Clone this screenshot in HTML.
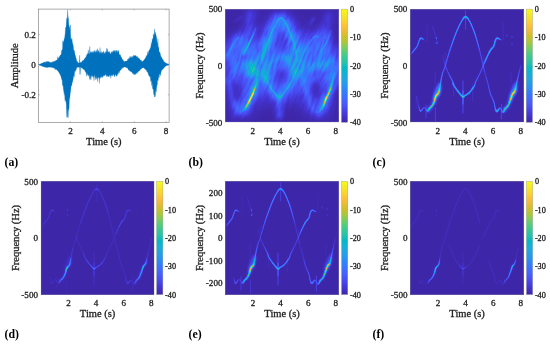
<!DOCTYPE html><html><head><meta charset="utf-8"><title>Figure</title><style>
html,body{margin:0;padding:0;background:#fff}body{width:550px;height:344px;position:relative;overflow:hidden}.ab{position:absolute;overflow:hidden}svg text{font-family:"Liberation Serif",serif;fill:#1c1c1c;stroke:#1c1c1c;stroke-width:.3px}
</style></head><body>
<svg width="0" height="0" style="position:absolute"><defs><filter id="pm" x="0" y="0" width="1" height="1" filterUnits="objectBoundingBox" color-interpolation-filters="sRGB"><feComponentTransfer><feFuncR type="table" tableValues="0.242 0.25 0.258 0.265 0.271 0.275 0.278 0.28 0.281 0.281 0.28 0.276 0.27 0.26 0.244 0.221 0.196 0.183 0.179 0.176 0.169 0.154 0.146 0.138 0.125 0.111 0.095 0.069 0.03 0.004 0.007 0.043 0.096 0.141 0.172 0.194 0.216 0.247 0.291 0.341 0.391 0.446 0.504 0.562 0.617 0.672 0.724 0.774 0.82 0.863 0.903 0.939 0.973 0.996 0.997 0.995 0.989 0.979 0.968 0.961 0.96 0.963 0.969 0.977"/><feFuncG type="table" tableValues="0.15 0.165 0.182 0.198 0.215 0.234 0.256 0.278 0.301 0.323 0.345 0.367 0.389 0.412 0.436 0.46 0.485 0.507 0.529 0.55 0.57 0.59 0.609 0.628 0.646 0.663 0.68 0.695 0.708 0.72 0.731 0.741 0.75 0.758 0.767 0.776 0.784 0.792 0.797 0.801 0.803 0.802 0.799 0.794 0.788 0.779 0.77 0.76 0.75 0.741 0.733 0.729 0.73 0.743 0.766 0.789 0.814 0.839 0.864 0.889 0.913 0.937 0.961 0.984"/><feFuncB type="table" tableValues="0.66 0.708 0.751 0.795 0.836 0.871 0.899 0.922 0.941 0.958 0.972 0.983 0.991 0.995 0.999 0.997 0.989 0.98 0.968 0.952 0.936 0.922 0.908 0.897 0.888 0.876 0.86 0.839 0.816 0.792 0.766 0.739 0.712 0.684 0.655 0.625 0.592 0.557 0.519 0.479 0.435 0.391 0.348 0.304 0.261 0.223 0.191 0.165 0.153 0.16 0.177 0.21 0.239 0.237 0.22 0.203 0.189 0.177 0.164 0.154 0.142 0.127 0.106 0.081"/></feComponentTransfer></filter><filter id="b0" x="-30" y="-30" width="180" height="180" filterUnits="userSpaceOnUse"><feGaussianBlur stdDeviation="0.45"/></filter><filter id="b1" x="-30" y="-30" width="180" height="180" filterUnits="userSpaceOnUse"><feGaussianBlur stdDeviation="0.6"/></filter><filter id="b2" x="-30" y="-30" width="180" height="180" filterUnits="userSpaceOnUse"><feGaussianBlur stdDeviation="1.2"/></filter><filter id="b3" x="-30" y="-30" width="180" height="180" filterUnits="userSpaceOnUse"><feGaussianBlur stdDeviation="2.2"/></filter><filter id="b4" x="-30" y="-30" width="180" height="180" filterUnits="userSpaceOnUse"><feGaussianBlur stdDeviation="3.5"/></filter><filter id="b6" x="-30" y="-30" width="180" height="180" filterUnits="userSpaceOnUse"><feGaussianBlur stdDeviation="5.5"/></filter><filter id="b8" x="-30" y="-30" width="180" height="180" filterUnits="userSpaceOnUse"><feGaussianBlur stdDeviation="9"/></filter><filter id="tx" x="-40" y="-40" width="200" height="200" filterUnits="userSpaceOnUse" color-interpolation-filters="sRGB"><feTurbulence type="fractalNoise" baseFrequency="0.42 0.07" numOctaves="2" seed="3" result="n"/><feColorMatrix in="n" type="matrix" values="0 0 0 0 1 0 0 0 0 1 0 0 0 0 1 1.25 0 0 0 0.2" result="m"/><feComposite in="SourceGraphic" in2="m" operator="in"/></filter><linearGradient id="cb" x1="0" y1="1" x2="0" y2="0"><stop offset="0" stop-color="#3e26a8"/><stop offset="0.05" stop-color="#4332cb"/><stop offset="0.1" stop-color="#4741e5"/><stop offset="0.14" stop-color="#4852f4"/><stop offset="0.19" stop-color="#4563fd"/><stop offset="0.24" stop-color="#3875fe"/><stop offset="0.29" stop-color="#2e87f7"/><stop offset="0.33" stop-color="#2797eb"/><stop offset="0.38" stop-color="#20a5e3"/><stop offset="0.43" stop-color="#12b1d6"/><stop offset="0.48" stop-color="#02bac3"/><stop offset="0.52" stop-color="#24c1ae"/><stop offset="0.57" stop-color="#37c897"/><stop offset="0.62" stop-color="#57cc7a"/><stop offset="0.67" stop-color="#81cc59"/><stop offset="0.71" stop-color="#abc739"/><stop offset="0.76" stop-color="#d1bf27"/><stop offset="0.81" stop-color="#f0ba36"/><stop offset="0.86" stop-color="#fec338"/><stop offset="0.9" stop-color="#fad62d"/><stop offset="0.95" stop-color="#f5e924"/><stop offset="1" stop-color="#f9fb15"/></linearGradient></defs></svg>
<svg class="ab" style="left:225.1px;top:9.1px" width="113.6" height="113.2" viewBox="0 0 113.6 113.2"><g filter="url(#pm)"><rect x="-5" y="-5" width="125" height="125" fill="#000"/><g transform="rotate(20 56 56)" filter="url(#tx)"><g transform="rotate(-20 56 56)"><ellipse cx="56" cy="56" rx="50" ry="34" fill="#fff" fill-opacity="0.14" filter="url(#b8)"/><rect x="-5" y="40" width="124" height="30" fill="#fff" fill-opacity="0.09" filter="url(#b6)"/><path d="M4.6 73.4L4.85 74.72L5.17 76.51L5.56 78.66L5.99 81.01L6.46 83.46L6.94 85.85L7.43 88.08L7.9 90L8.56 92.26L9.27 94.41L10 96.41L10.72 98.21L11.4 99.75L12 101L13.31 102.73L14.5 103L16.04 102.98L17.6 102.3L19.01 100.88L20.3 99.1L21.44 97.34L22.5 95.5L23.43 93.74L24.5 91.6L25.27 90.1L26.17 88.37L27.06 86.6L27.8 85L28.49 83.21L29 81.61L29.5 80L30.05 78.48L30.59 76.96L31.1 75L31.37 73.46L31.61 71.7L31.85 69.81L32.13 67.88L32.5 66L32.98 64.2L33.53 62.4L34.13 60.59L34.74 58.73L35.3 56.8L35.78 54.81L36.2 52.79L36.63 50.69L37.14 48.51L37.8 46.2L38.39 44.43L39.07 42.54L39.82 40.58L40.59 38.6L41.36 36.65L42.11 34.77L42.8 33L43.55 31.02L44.29 29.08L45 27.21L45.68 25.46L46.31 23.87L46.9 22.5L47.85 20.63L48.64 19.43L49.5 18L50.28 16.42L51.11 14.63L51.97 12.9L52.8 11.5L54.42 9.63L56 8.9L57.47 9.63L59 11.5L59.9 12.84L60.87 14.47L61.83 16.25L62.7 18L63.45 19.73L64.14 21.51L64.78 23.29L65.4 25L66.19 27.08L66.93 29.08L67.7 31.3L68.3 33.03L68.91 34.77L69.54 36.85L70.2 39.6L70.52 41.17L70.85 42.99L71.19 44.99L71.54 47.09L71.89 49.24L72.24 51.36L72.58 53.37L72.9 55.21L73.2 56.8L73.66 59.11L74.06 60.97L74.44 62.56L74.86 64.04L75.4 65.6L76.27 67.49L77.28 69.22L78.33 71.09L79.3 73.4L79.79 75.01L80.24 76.8L80.67 78.72L81.1 80.72L81.55 82.75L82.04 84.76L82.6 86.7L83.24 88.68L83.95 90.77L84.71 92.88L85.49 94.94L86.25 96.85L86.96 98.53L87.6 99.9L89.37 102.42L90.9 103.2L92.43 103.32L94 102.5L95.23 101.34L96.52 99.8L97.6 98.3L98.57 96.42L99.3 94.5L100 92.43L100.9 90L101.62 88.52L102.49 86.89L103.39 85.14L104.2 83.3L104.9 81.35L105.54 79.29L106.14 77.16L106.7 75L107.09 73.26L107.44 71.5L107.76 69.71L108.11 67.88L108.5 66L109 63.9L109.57 61.59L110.15 59.33L110.65 57.38L111 56" fill="none" stroke="#fff" stroke-width="20" stroke-opacity="0.06" stroke-linecap="round" stroke-linejoin="round" filter="url(#b6)"/><path d="M35.3 56.8L35.89 58.2L36.74 60.2L37.7 62.43L38.6 64.5L39.37 66.27L40.09 67.96L40.9 69.71L41.9 71.7L42.71 73.24L43.62 74.95L44.59 76.74L45.61 78.51L46.66 80.2L47.7 81.7L49 83.41L50.38 85.1L51.77 86.6L53.1 87.73L54.3 88.3L55.98 87.76L57.43 86.01L58.8 84.1L60.01 82.47L61.15 80.67L62.6 78.4L63.57 77L64.69 75.44L65.89 73.77L67.09 72.01L68.22 70.21L69.2 68.4L70.01 66.55L70.71 64.61L71.34 62.64L71.93 60.65L72.54 58.69L73.2 56.8L73.9 54.97L74.61 53.17L75.34 51.39L76.07 49.64L76.83 47.91L77.6 46.2L78.39 44.48L79.19 42.76L80.01 41.06L80.85 39.4L81.71 37.8L82.6 36.3L83.76 34.55L85.02 32.84L86.28 31.26L87.44 29.88L88.4 28.8L90.9 27.2L92.61 27.75L94 28.5" fill="none" stroke="#fff" stroke-width="16" stroke-opacity="0.04" stroke-linecap="round" stroke-linejoin="round" filter="url(#b6)"/><path d="M4.6 73.4L4.85 74.72L5.17 76.51L5.56 78.66L5.99 81.01L6.46 83.46L6.94 85.85L7.43 88.08L7.9 90L8.56 92.26L9.27 94.41L10 96.41L10.72 98.21L11.4 99.75L12 101L13.31 102.73L14.5 103L16.04 102.98L17.6 102.3L19.01 100.88L20.3 99.1L21.44 97.34L22.5 95.5L23.43 93.74L24.5 91.6L25.27 90.1L26.17 88.37L27.06 86.6L27.8 85L28.49 83.21L29 81.61L29.5 80L30.05 78.48L30.59 76.96L31.1 75L31.37 73.46L31.61 71.7L31.85 69.81L32.13 67.88L32.5 66L32.98 64.2L33.53 62.4L34.13 60.59L34.74 58.73L35.3 56.8L35.78 54.81L36.2 52.79L36.63 50.69L37.14 48.51L37.8 46.2L38.39 44.43L39.07 42.54L39.82 40.58L40.59 38.6L41.36 36.65L42.11 34.77L42.8 33L43.55 31.02L44.29 29.08L45 27.21L45.68 25.46L46.31 23.87L46.9 22.5L47.85 20.63L48.64 19.43L49.5 18L50.28 16.42L51.11 14.63L51.97 12.9L52.8 11.5L54.42 9.63L56 8.9L57.47 9.63L59 11.5L59.9 12.84L60.87 14.47L61.83 16.25L62.7 18L63.45 19.73L64.14 21.51L64.78 23.29L65.4 25L66.19 27.08L66.93 29.08L67.7 31.3L68.3 33.03L68.91 34.77L69.54 36.85L70.2 39.6L70.52 41.17L70.85 42.99L71.19 44.99L71.54 47.09L71.89 49.24L72.24 51.36L72.58 53.37L72.9 55.21L73.2 56.8L73.66 59.11L74.06 60.97L74.44 62.56L74.86 64.04L75.4 65.6L76.27 67.49L77.28 69.22L78.33 71.09L79.3 73.4L79.79 75.01L80.24 76.8L80.67 78.72L81.1 80.72L81.55 82.75L82.04 84.76L82.6 86.7L83.24 88.68L83.95 90.77L84.71 92.88L85.49 94.94L86.25 96.85L86.96 98.53L87.6 99.9L89.37 102.42L90.9 103.2L92.43 103.32L94 102.5L95.23 101.34L96.52 99.8L97.6 98.3L98.57 96.42L99.3 94.5L100 92.43L100.9 90L101.62 88.52L102.49 86.89L103.39 85.14L104.2 83.3L104.9 81.35L105.54 79.29L106.14 77.16L106.7 75L107.09 73.26L107.44 71.5L107.76 69.71L108.11 67.88L108.5 66L109 63.9L109.57 61.59L110.15 59.33L110.65 57.38L111 56" fill="none" stroke="#fff" stroke-width="8" stroke-opacity="0.09" stroke-linecap="round" stroke-linejoin="round" filter="url(#b3)"/><path d="M35.3 56.8L35.89 58.2L36.74 60.2L37.7 62.43L38.6 64.5L39.37 66.27L40.09 67.96L40.9 69.71L41.9 71.7L42.71 73.24L43.62 74.95L44.59 76.74L45.61 78.51L46.66 80.2L47.7 81.7L49 83.41L50.38 85.1L51.77 86.6L53.1 87.73L54.3 88.3L55.98 87.76L57.43 86.01L58.8 84.1L60.01 82.47L61.15 80.67L62.6 78.4L63.57 77L64.69 75.44L65.89 73.77L67.09 72.01L68.22 70.21L69.2 68.4L70.01 66.55L70.71 64.61L71.34 62.64L71.93 60.65L72.54 58.69L73.2 56.8L73.9 54.97L74.61 53.17L75.34 51.39L76.07 49.64L76.83 47.91L77.6 46.2L78.39 44.48L79.19 42.76L80.01 41.06L80.85 39.4L81.71 37.8L82.6 36.3L83.76 34.55L85.02 32.84L86.28 31.26L87.44 29.88L88.4 28.8L90.9 27.2L92.61 27.75L94 28.5" fill="none" stroke="#fff" stroke-width="7" stroke-opacity="0.08" stroke-linecap="round" stroke-linejoin="round" filter="url(#b3)"/><path d="M1.6 46.5L3.7 44.6L4.47 43.14L5.42 41.18L6.47 38.94L7.55 36.68L8.58 34.62L9.5 33L11.09 30.85L12.5 29.53L13.7 28.8L16 30" fill="none" stroke="#fff" stroke-width="7" stroke-opacity="0.1" stroke-linecap="round" stroke-linejoin="round" filter="url(#b3)"/><path d="M37.8 46.2L38.26 44.98L38.89 43.31L39.64 41.32L40.46 39.16L41.29 36.96L42.09 34.86L42.8 33L43.55 31.02L44.29 29.08L45 27.21L45.68 25.46L46.31 23.87L46.9 22.5L47.85 20.63L48.64 19.43L49.5 18L50.28 16.42L51.11 14.63L51.97 12.9L52.8 11.5L54.42 9.63L56 8.9L57.47 9.63L59 11.5L59.9 12.84L60.87 14.47L61.83 16.25L62.7 18L63.45 19.73L64.14 21.51L64.78 23.29L65.4 25L66.19 27.08L66.93 29.08L67.7 31.3L68.37 33.43L69.09 35.84L69.75 38.06L70.2 39.6" fill="none" stroke="#fff" stroke-width="10" stroke-opacity="0.2" stroke-linecap="round" stroke-linejoin="round" filter="url(#b4)"/><path d="M38.6 64.5L39.13 65.73L39.89 67.47L40.82 69.53L41.9 71.7L42.71 73.24L43.62 74.95L44.59 76.74L45.61 78.51L46.66 80.2L47.7 81.7L49 83.41L50.38 85.1L51.77 86.6L53.1 87.73L54.3 88.3L55.98 87.76L57.43 86.01L58.8 84.1L60.01 82.47L61.15 80.67L62.6 78.4L63.57 77L64.69 75.44L65.89 73.77L67.09 72.01L68.22 70.21L69.2 68.4L70.06 66.43L70.87 64.22L71.61 61.98L72.26 59.87L72.79 58.08L73.2 56.8" fill="none" stroke="#fff" stroke-width="7" stroke-opacity="0.13" stroke-linecap="round" stroke-linejoin="round" filter="url(#b3)"/><ellipse cx="13" cy="40" rx="11" ry="17" fill="#fff" fill-opacity="0.1" filter="url(#b4)"/><ellipse cx="98" cy="38" rx="11" ry="17" fill="#fff" fill-opacity="0.1" filter="url(#b4)"/><path d="M17 100L32 66" fill="none" stroke="#fff" stroke-width="12" stroke-opacity="0.12" stroke-linecap="round" stroke-linejoin="round" filter="url(#b4)"/><path d="M95 100L108 66" fill="none" stroke="#fff" stroke-width="12" stroke-opacity="0.1" stroke-linecap="round" stroke-linejoin="round" filter="url(#b4)"/><path d="M20 44L27 2" fill="none" stroke="#fff" stroke-width="9" stroke-opacity="0.12" stroke-linecap="round" stroke-linejoin="round" filter="url(#b4)"/><path d="M97 42L105 6" fill="none" stroke="#fff" stroke-width="9" stroke-opacity="0.11" stroke-linecap="round" stroke-linejoin="round" filter="url(#b4)"/><path d="M84 15L89 9" fill="none" stroke="#fff" stroke-width="2" stroke-opacity="0.1" stroke-linecap="round" stroke-linejoin="round" filter="url(#b2)"/><path d="M9 13L16 8" fill="none" stroke="#fff" stroke-width="2" stroke-opacity="0.08" stroke-linecap="round" stroke-linejoin="round" filter="url(#b2)"/><ellipse cx="25.9" cy="59" rx="7" ry="9" fill="#fff" fill-opacity="0.28" filter="url(#b3)" transform="rotate(-25 25.9 59)"/><ellipse cx="26" cy="58.5" rx="3" ry="5" fill="#fff" fill-opacity="0.25" filter="url(#b2)" transform="rotate(-25 26 58.5)"/><ellipse cx="9" cy="60" rx="6" ry="8" fill="#fff" fill-opacity="0.1" filter="url(#b3)"/><path d="M81 58.5L107 52.5" fill="none" stroke="#fff" stroke-width="8" stroke-opacity="0.15" stroke-linecap="round" stroke-linejoin="round" filter="url(#b3)"/><ellipse cx="99" cy="57" rx="5" ry="6" fill="#fff" fill-opacity="0.14" filter="url(#b2)"/><path d="M42 69Q44.5 50 56 46Q67 49 70 64" fill="none" stroke="#fff" stroke-width="6" stroke-opacity="0.16" stroke-linecap="round" stroke-linejoin="round" filter="url(#b3)"/><path d="M54.3 86V108" fill="none" stroke="#fff" stroke-width="6" stroke-opacity="0.16" stroke-linecap="round" stroke-linejoin="round" filter="url(#b3)"/></g></g><ellipse cx="10" cy="82" rx="5.5" ry="10" fill="#000" fill-opacity="0.6" filter="url(#b3)" transform="rotate(-15 10 82)"/><ellipse cx="91" cy="81" rx="5" ry="9" fill="#000" fill-opacity="0.6" filter="url(#b3)" transform="rotate(-10 91 81)"/><ellipse cx="55.5" cy="68" rx="5.5" ry="7" fill="#000" fill-opacity="0.5" filter="url(#b3)"/><ellipse cx="56" cy="33" rx="6.5" ry="10" fill="#000" fill-opacity="0.45" filter="url(#b4)"/><ellipse cx="35" cy="8" rx="4" ry="12" fill="#000" fill-opacity="0.5" filter="url(#b4)" transform="rotate(10 35 8)"/><ellipse cx="75" cy="8" rx="4" ry="12" fill="#000" fill-opacity="0.5" filter="url(#b4)" transform="rotate(-10 75 8)"/><ellipse cx="35.5" cy="56.8" rx="3" ry="4" fill="#000" fill-opacity="0.25" filter="url(#b2)"/><ellipse cx="73.2" cy="56.8" rx="3" ry="4" fill="#000" fill-opacity="0.3" filter="url(#b2)"/><ellipse cx="56" cy="-3" rx="60" ry="6" fill="#000" fill-opacity="0.5" filter="url(#b3)"/><ellipse cx="0" cy="5" rx="12" ry="22" fill="#000" fill-opacity="0.7" filter="url(#b4)"/><ellipse cx="113" cy="5" rx="6" ry="30" fill="#000" fill-opacity="0.7" filter="url(#b4)"/><ellipse cx="56" cy="118" rx="60" ry="7" fill="#000" fill-opacity="0.7" filter="url(#b4)"/><ellipse cx="-1" cy="100" rx="6" ry="20" fill="#000" fill-opacity="0.7" filter="url(#b3)"/><ellipse cx="114" cy="100" rx="4" ry="20" fill="#000" fill-opacity="0.7" filter="url(#b3)"/><path d="M19.67 99.99L20.3 99.1L20.89 98.24L21.44 97.34M29.5 80L29.83 79.06L30.16 78.19L30.48 77.29L30.79 76.26L31.1 75M97.1 99.02L97.6 98.3L98.16 97.34L98.57 96.42L98.93 95.49M105.12 80.68L105.4 79.76L105.68 78.82L105.95 77.88L106.21 76.92L106.46 75.96L106.7 75" fill="none" stroke="#fff" stroke-width="4" stroke-opacity="0.12" stroke-linecap="round" stroke-linejoin="round" filter="url(#b2)"/><path d="M21.44 97.34L21.98 96.43L22.5 95.5L22.98 94.61L23.43 93.74L23.91 92.77M28.24 83.9L28.6 82.88L28.9 81.92L29.19 80.97L29.5 80M98.93 95.49L99.3 94.5L99.6 93.68L99.87 92.86L100.14 91.99L100.47 91.05M101.29 89.17L101.74 88.29L102.24 87.37L102.75 86.4L103.27 85.4L103.76 84.36L104.2 83.3L104.52 82.45L104.82 81.58L105.12 80.68" fill="none" stroke="#fff" stroke-width="4" stroke-opacity="0.16" stroke-linecap="round" stroke-linejoin="round" filter="url(#b2)"/><path d="M23.91 92.77L24.5 91.6L24.92 90.78L25.39 89.86L25.91 88.88L26.43 87.86L26.94 86.85L27.4 85.88L27.8 85L28.24 83.9M100.47 91.05L100.9 90L101.29 89.17" fill="none" stroke="#fff" stroke-width="4" stroke-opacity="0.2" stroke-linecap="round" stroke-linejoin="round" filter="url(#b2)"/><path d="M4.6 73.4L4.71 73.95L4.83 74.63L4.97 75.41L5.13 76.28L5.3 77.24L5.49 78.26L5.68 79.33L5.89 80.45L6.1 81.58L6.32 82.74L6.54 83.89L6.77 85.02L7 86.13L7.23 87.19L7.45 88.2L7.68 89.14L7.9 90L8.22 91.14L8.56 92.26L8.91 93.35L9.27 94.41L9.63 95.44L10 96.41L10.36 97.34L10.72 98.21L11.07 99.01L11.4 99.75L11.71 100.42L12 101L12.93 102.43L13.68 102.87L14.5 103L15.5 103.06M35.03 57.78L35.3 56.8L35.53 55.9M72.71 54.15L72.88 55.11L73.04 55.99L73.2 56.8L73.47 58.15L73.71 59.34L73.93 60.39L74.14 61.34L74.35 62.22L74.57 63.05L74.81 63.87L75.09 64.71L75.4 65.6L75.76 66.48L76.16 67.29L76.6 68.07L77.05 68.83L77.51 69.61L77.98 70.43L78.44 71.32L78.88 72.3L79.3 73.4L79.55 74.18L79.79 75.01L80.02 75.89L80.24 76.8L80.45 77.75L80.67 78.72L80.88 79.71L81.1 80.72L81.32 81.73L81.55 82.75L81.79 83.76L82.04 84.76L82.31 85.74L82.6 86.7L82.91 87.67L83.24 88.68L83.59 89.71L83.95 90.77L84.33 91.83L84.71 92.88L85.1 93.93L85.49 94.94L85.87 95.92L86.25 96.85L86.61 97.73L86.96 98.53L87.29 99.26L87.6 99.9L88.37 101.26L89.05 102.12L89.68 102.64L90.28 102.95L90.9 103.2M110.85 56.6L111 56" fill="none" stroke="#fff" stroke-width="3.4" stroke-opacity="0.04" stroke-linecap="round" stroke-linejoin="round" filter="url(#b2)"/><g filter="url(#b0)"><path d="M15.5 103.06L16.57 102.82L17.6 102.3M32.98 64.2L33.25 63.3L33.53 62.4L33.83 61.5L34.13 60.59L34.44 59.67L34.74 58.73L35.03 57.78M35.53 55.9L35.74 54.99L35.94 54.08L36.13 53.16L36.32 52.22L36.51 51.27L36.72 50.3L36.95 49.32L37.2 48.3M71.07 44.26L71.25 45.35L71.44 46.47L71.63 47.6L71.81 48.74L72 49.87L72.18 50.99L72.36 52.08L72.54 53.14L72.71 54.15M90.9 103.2L91.93 103.39L92.94 103.14M109 63.9L109.28 62.76L109.57 61.59L109.86 60.44L110.15 59.33L110.41 58.3L110.65 57.38L110.85 56.6" fill="none" stroke="#fff" stroke-width="1.7" stroke-opacity="0.08" stroke-linecap="butt" stroke-linejoin="round"/><path d="M17.6 102.3L18.31 101.69M32.1 68.09L32.28 67.03L32.5 66L32.72 65.09L32.98 64.2M37.2 48.3L37.48 47.27L37.8 46.2L38.08 45.33L38.39 44.43L38.72 43.49L39.07 42.54L39.44 41.57L39.82 40.58L40.2 39.59L40.59 38.6L40.98 37.62L41.36 36.65M67.97 32.09L68.23 32.84L68.5 33.59L68.77 34.36L69.04 35.19L69.32 36.1L69.61 37.12L69.9 38.28L70.2 39.6L70.36 40.39L70.53 41.27L70.71 42.21L70.89 43.21L71.07 44.26M92.94 103.14L94 102.5L94.59 102M108.07 68.08L108.27 67.05L108.5 66L108.73 65L109 63.9" fill="none" stroke="#fff" stroke-width="1.7" stroke-opacity="0.12" stroke-linecap="butt" stroke-linejoin="round"/><path d="M31.66 71.29L31.79 70.23L31.94 69.16L32.1 68.09M41.36 36.65L41.74 35.7L42.11 34.77L42.46 33.87L42.8 33L43.21 31.92L43.62 30.85L44.02 29.78L44.42 28.73L44.81 27.71L45.19 26.71L45.56 25.76L45.91 24.86L46.26 24.01L46.59 23.22L46.9 22.5L47.5 21.25L48.01 20.36L48.48 19.66L48.96 18.93L49.5 18L49.94 17.14L50.39 16.17L50.87 15.15L51.36 14.12L51.84 13.13L52.33 12.24L52.8 11.5L53.61 10.45L54.42 9.63L55.22 9.09L56 8.9L56.75 9.09L57.47 9.63L58.21 10.45L59 11.5L59.5 12.22L60.04 13.06L60.59 13.99L61.15 14.97L61.7 15.99L62.22 17.01L62.7 18L63.09 18.86L63.45 19.73L63.8 20.62L64.14 21.51L64.46 22.4L64.78 23.29L65.09 24.16L65.4 25L65.75 25.92L66.08 26.79L66.4 27.64L66.72 28.5L67.04 29.37L67.36 30.3L67.7 31.3L67.97 32.09M94.59 102L95.23 101.34M107.51 71.1L107.69 70.11L107.87 69.1L108.07 68.08" fill="none" stroke="#fff" stroke-width="1.7" stroke-opacity="0.16" stroke-linecap="butt" stroke-linejoin="round"/><path d="M18.31 101.69L19.01 100.88M31.26 74.18L31.4 73.27L31.53 72.3L31.66 71.29M95.23 101.34L95.89 100.59M106.93 74.04L107.13 73.07L107.33 72.09L107.51 71.1" fill="none" stroke="#fff" stroke-width="1.7" stroke-opacity="0.2" stroke-linecap="butt" stroke-linejoin="round"/><path d="M31.1 75L31.26 74.18M95.89 100.59L96.52 99.8M106.7 75L106.93 74.04" fill="none" stroke="#fff" stroke-width="1.7" stroke-opacity="0.24" stroke-linecap="butt" stroke-linejoin="round"/><path d="M19.01 100.88L19.67 99.99M30.79 76.26L31.1 75M96.52 99.8L97.1 99.02L97.6 98.3M106.46 75.96L106.7 75" fill="none" stroke="#fff" stroke-width="1.7" stroke-opacity="0.28" stroke-linecap="butt" stroke-linejoin="round"/><path d="M30.48 77.29L30.79 76.26M106.21 76.92L106.46 75.96" fill="none" stroke="#fff" stroke-width="1.7" stroke-opacity="0.32" stroke-linecap="butt" stroke-linejoin="round"/><path d="M19.67 99.99L20.3 99.1M97.6 98.3L98.16 97.34M105.95 77.88L106.21 76.92" fill="none" stroke="#fff" stroke-width="1.7" stroke-opacity="0.36" stroke-linecap="butt" stroke-linejoin="round"/><path d="M30.16 78.19L30.48 77.29" fill="none" stroke="#fff" stroke-width="1.7" stroke-opacity="0.4" stroke-linecap="butt" stroke-linejoin="round"/><path d="M20.3 99.1L20.89 98.24M29.83 79.06L30.16 78.19M98.16 97.34L98.57 96.42M105.68 78.82L105.95 77.88" fill="none" stroke="#fff" stroke-width="1.7" stroke-opacity="0.44" stroke-linecap="butt" stroke-linejoin="round"/><path d="M105.4 79.76L105.68 78.82" fill="none" stroke="#fff" stroke-width="1.7" stroke-opacity="0.48" stroke-linecap="butt" stroke-linejoin="round"/><path d="M20.89 98.24L21.44 97.34M29.5 80L29.83 79.06M98.57 96.42L98.93 95.49M105.12 80.68L105.4 79.76" fill="none" stroke="#fff" stroke-width="1.7" stroke-opacity="0.52" stroke-linecap="butt" stroke-linejoin="round"/><path d="M104.82 81.58L105.12 80.68" fill="none" stroke="#fff" stroke-width="1.7" stroke-opacity="0.56" stroke-linecap="butt" stroke-linejoin="round"/><path d="M21.44 97.34L21.98 96.43M29.19 80.97L29.5 80M98.93 95.49L99.3 94.5" fill="none" stroke="#fff" stroke-width="1.7" stroke-opacity="0.6" stroke-linecap="butt" stroke-linejoin="round"/><path d="M99.3 94.5L99.6 93.68M104.52 82.45L104.82 81.58" fill="none" stroke="#fff" stroke-width="1.7" stroke-opacity="0.64" stroke-linecap="butt" stroke-linejoin="round"/><path d="M21.98 96.43L22.5 95.5M28.9 81.92L29.19 80.97M104.2 83.3L104.52 82.45" fill="none" stroke="#fff" stroke-width="1.7" stroke-opacity="0.68" stroke-linecap="butt" stroke-linejoin="round"/><path d="M22.5 95.5L22.98 94.61M99.6 93.68L99.87 92.86M103.76 84.36L104.2 83.3" fill="none" stroke="#fff" stroke-width="1.7" stroke-opacity="0.72" stroke-linecap="butt" stroke-linejoin="round"/><path d="M28.6 82.88L28.9 81.92M99.87 92.86L100.14 91.99M102.75 86.4L103.27 85.4L103.76 84.36" fill="none" stroke="#fff" stroke-width="1.7" stroke-opacity="0.76" stroke-linecap="butt" stroke-linejoin="round"/><path d="M22.98 94.61L23.43 93.74M100.14 91.99L100.47 91.05M102.24 87.37L102.75 86.4" fill="none" stroke="#fff" stroke-width="1.7" stroke-opacity="0.8" stroke-linecap="butt" stroke-linejoin="round"/><path d="M23.43 93.74L23.91 92.77M28.24 83.9L28.6 82.88M101.29 89.17L101.74 88.29L102.24 87.37" fill="none" stroke="#fff" stroke-width="1.7" stroke-opacity="0.84" stroke-linecap="butt" stroke-linejoin="round"/><path d="M27.8 85L28.24 83.9M100.47 91.05L100.9 90L101.29 89.17" fill="none" stroke="#fff" stroke-width="1.7" stroke-opacity="0.88" stroke-linecap="butt" stroke-linejoin="round"/><path d="M23.91 92.77L24.5 91.6L24.92 90.78L25.39 89.86L25.91 88.88L26.43 87.86L26.94 86.85L27.4 85.88L27.8 85" fill="none" stroke="#fff" stroke-width="1.7" stroke-opacity="0.92" stroke-linecap="butt" stroke-linejoin="round"/><path d="M14.32 28.59L14.73 28.97M33.4 49.81L33.68 50.9L33.95 51.98L34.22 53.05L34.49 54.08L34.76 55.05L35.03 55.97L35.3 56.8L35.74 58.01L36.16 59.1L36.57 60.08L36.98 61" fill="none" stroke="#fff" stroke-width="1.7" stroke-opacity="0.04" stroke-linecap="butt" stroke-linejoin="round"/><path d="M1.6 46.5L2.01 46.37L2.65 46.02L3.7 44.6L4.03 44.01L4.4 43.28L4.82 42.43M13.7 28.8L14.32 28.59M36.98 61L37.38 61.87L37.79 62.73L38.19 63.6L38.6 64.5L39 65.4L39.37 66.27L39.73 67.11M71.03 63.63L71.34 62.64L71.64 61.64L71.93 60.65L72.23 59.67L72.54 58.69L72.86 57.74L73.2 56.8L73.58 55.8L73.97 54.8L74.35 53.82L74.75 52.84L75.14 51.87L75.54 50.91L75.94 49.96L76.35 49.01L76.76 48.07M90.9 27.2L92 27.47L93.17 28.06L94 28.5" fill="none" stroke="#fff" stroke-width="1.7" stroke-opacity="0.08" stroke-linecap="butt" stroke-linejoin="round"/><path d="M4.82 42.43L5.26 41.5L5.73 40.51L6.22 39.47L6.72 38.42L7.22 37.36L7.71 36.34L8.19 35.37L8.66 34.47L9.1 33.68L9.5 33L10.31 31.81L11.09 30.85L11.82 30.1L12.5 29.53L13.13 29.1L13.7 28.8M39.73 67.11L40.09 67.96L40.48 68.82L40.9 69.71L41.37 70.67L41.9 71.7L42.29 72.45L42.71 73.24L43.16 74.08L43.62 74.95L44.1 75.84L44.59 76.74M65.28 74.62L65.89 73.77L66.49 72.9L67.09 72.01L67.67 71.11L68.22 70.21L68.73 69.3L69.2 68.4L69.62 67.49L70.01 66.55L70.37 65.59L70.71 64.61L71.03 63.63M76.76 48.07L77.18 47.13L77.6 46.2L78.03 45.26L78.46 44.32L78.9 43.38L79.34 42.45L79.79 41.52L80.24 40.6L80.7 39.69L81.16 38.81L81.63 37.94L82.11 37.11L82.6 36.3L83.23 35.33L83.9 34.36L84.6 33.4L85.3 32.48L86 31.6L86.68 30.77L87.32 30.02L87.9 29.36L88.4 28.8L89.46 27.72L90.14 27.3L90.9 27.2" fill="none" stroke="#fff" stroke-width="1.7" stroke-opacity="0.12" stroke-linecap="butt" stroke-linejoin="round"/><path d="M44.59 76.74L45.1 77.63L45.61 78.51L46.14 79.37L46.66 80.2L47.18 80.98L47.7 81.7L48.41 82.64L49.15 83.6L49.92 84.55M57.43 86.01L58.11 85.01L58.8 84.1L59.36 83.4L59.86 82.71L60.33 81.99L60.81 81.22L61.33 80.39L61.92 79.45L62.6 78.4L63.06 77.72L63.57 77L64.11 76.24L64.69 75.44L65.28 74.62" fill="none" stroke="#fff" stroke-width="1.7" stroke-opacity="0.16" stroke-linecap="butt" stroke-linejoin="round"/><path d="M49.92 84.55L50.69 85.46L51.47 86.29L52.23 87.03L52.96 87.62M55.18 88.24L55.98 87.76L56.72 86.97L57.43 86.01" fill="none" stroke="#fff" stroke-width="1.7" stroke-opacity="0.2" stroke-linecap="butt" stroke-linejoin="round"/><path d="M52.96 87.62L53.65 88.06L54.3 88.3L55.18 88.24" fill="none" stroke="#fff" stroke-width="1.7" stroke-opacity="0.24" stroke-linecap="butt" stroke-linejoin="round"/><path d="M30.8 18.66L31 18" fill="none" stroke="#fff" stroke-width="1.6" stroke-opacity="0.04" stroke-linecap="butt" stroke-linejoin="round"/><path d="M29.83 21.82L30.21 20.65L30.54 19.57L30.8 18.66" fill="none" stroke="#fff" stroke-width="1.6" stroke-opacity="0.08" stroke-linecap="butt" stroke-linejoin="round"/><path d="M17.8 46.2L18.13 45.64M29.05 23.85L29.4 23L29.83 21.82" fill="none" stroke="#fff" stroke-width="1.6" stroke-opacity="0.12" stroke-linecap="butt" stroke-linejoin="round"/><path d="M18.13 45.64L18.59 44.86L19.13 43.94M27.81 26.67L28.25 25.71L28.67 24.76L29.05 23.85" fill="none" stroke="#fff" stroke-width="1.6" stroke-opacity="0.16" stroke-linecap="butt" stroke-linejoin="round"/><path d="M19.13 43.94L19.7 42.95L20.28 41.94M26.93 28.58L27.37 27.64L27.81 26.67" fill="none" stroke="#fff" stroke-width="1.6" stroke-opacity="0.2" stroke-linecap="butt" stroke-linejoin="round"/><path d="M20.28 41.94L20.8 41L21.28 40.11M26.08 30.39L26.5 29.5L26.93 28.58" fill="none" stroke="#fff" stroke-width="1.6" stroke-opacity="0.24" stroke-linecap="butt" stroke-linejoin="round"/><path d="M21.28 40.11L21.74 39.21M25.67 31.27L26.08 30.39" fill="none" stroke="#fff" stroke-width="1.6" stroke-opacity="0.28" stroke-linecap="butt" stroke-linejoin="round"/><path d="M21.74 39.21L22.21 38.3M24.84 32.99L25.25 32.13L25.67 31.27" fill="none" stroke="#fff" stroke-width="1.6" stroke-opacity="0.32" stroke-linecap="butt" stroke-linejoin="round"/><path d="M22.21 38.3L22.67 37.38L23.13 36.45M24.42 33.84L24.84 32.99" fill="none" stroke="#fff" stroke-width="1.6" stroke-opacity="0.36" stroke-linecap="butt" stroke-linejoin="round"/><path d="M23.13 36.45L23.6 35.5L24.01 34.67L24.42 33.84" fill="none" stroke="#fff" stroke-width="1.6" stroke-opacity="0.4" stroke-linecap="butt" stroke-linejoin="round"/><path d="M105.84 21.63L106 21" fill="none" stroke="#fff" stroke-width="1.6" stroke-opacity="0.04" stroke-linecap="butt" stroke-linejoin="round"/><path d="M105 24.7L105.34 23.58L105.62 22.52L105.84 21.63" fill="none" stroke="#fff" stroke-width="1.6" stroke-opacity="0.08" stroke-linecap="butt" stroke-linejoin="round"/><path d="M95.9 42.9L96.26 42.31L96.76 41.48L97.35 40.5M103.71 28.23L104.07 27.29L104.41 26.37L104.73 25.5L105 24.7" fill="none" stroke="#fff" stroke-width="1.6" stroke-opacity="0.12" stroke-linecap="butt" stroke-linejoin="round"/><path d="M97.35 40.5L97.95 39.51L98.5 38.6L99 37.79M102.59 30.97L103 30L103.35 29.14L103.71 28.23" fill="none" stroke="#fff" stroke-width="1.6" stroke-opacity="0.16" stroke-linecap="butt" stroke-linejoin="round"/><path d="M99 37.79L99.49 37.01L99.97 36.23M101.77 32.84L102.18 31.92L102.59 30.97" fill="none" stroke="#fff" stroke-width="1.6" stroke-opacity="0.2" stroke-linecap="butt" stroke-linejoin="round"/><path d="M99.97 36.23L100.44 35.43L100.9 34.6L101.34 33.73L101.77 32.84" fill="none" stroke="#fff" stroke-width="1.6" stroke-opacity="0.24" stroke-linecap="butt" stroke-linejoin="round"/></g></g></svg>
<svg class="ab" style="left:410.1px;top:9.1px" width="113.6" height="113.2" viewBox="0 0 113.6 113.2"><g filter="url(#pm)"><rect x="-5" y="-5" width="125" height="125" fill="#000"/><path d="M17.6 102.3L18.12 101.74M29.77 78.17L29.93 77.12L30.1 76.06M93.6 102.86L94.14 101.83M105.6 79.05L105.82 78.03L106.05 76.94" fill="none" stroke="#fff" stroke-width="4.2" stroke-opacity="0.02" stroke-linecap="round" stroke-linejoin="round" filter="url(#b2)"/><path d="M18.12 101.74L18.65 100.67M29.46 80.18L29.61 79.19L29.77 78.17M94.14 101.83L94.7 100.62M105.4 80.01L105.6 79.05" fill="none" stroke="#fff" stroke-width="4.2" stroke-opacity="0.04" stroke-linecap="round" stroke-linejoin="round" filter="url(#b2)"/><path d="M18.65 100.67L19.3 99.6L19.94 98.94M28.93 82.79L29.12 81.99L29.3 81.12L29.46 80.18M94.7 100.62L95.3 99.6L95.95 98.89M104.95 81.68L105.18 80.88L105.4 80.01" fill="none" stroke="#fff" stroke-width="4.2" stroke-opacity="0.06" stroke-linecap="round" stroke-linejoin="round" filter="url(#b2)"/><path d="M19.94 98.94L20.67 98.31L21.42 97.61L22.1 96.8L22.59 96.04L23.05 95.21L23.49 94.32L23.91 93.38M28.06 84.66L28.7 83.5L28.93 82.79M95.95 98.89L96.64 98.31L97.34 97.67L98 96.8L98.41 96.05L98.8 95.19L99.18 94.26L99.56 93.28L99.93 92.28L100.3 91.3M104.19 83.29L104.7 82.4L104.95 81.68" fill="none" stroke="#fff" stroke-width="4.2" stroke-opacity="0.08" stroke-linecap="round" stroke-linejoin="round" filter="url(#b2)"/><path d="M23.91 93.38L24.3 92.4L24.59 91.52L24.83 90.57L25.06 89.59M27.3 85.39L28.06 84.66M100.3 91.3L100.67 90.28L101.04 89.19L101.41 88.08M103.06 84.36L103.64 83.83L104.19 83.29" fill="none" stroke="#fff" stroke-width="4.2" stroke-opacity="0.1" stroke-linecap="round" stroke-linejoin="round" filter="url(#b2)"/><path d="M25.06 89.59L25.3 88.62L25.57 87.71L25.9 86.9L26.54 86.02L27.3 85.39M101.41 88.08L101.77 87.01L102.13 86.03L102.5 85.2L103.06 84.36" fill="none" stroke="#fff" stroke-width="4.2" stroke-opacity="0.12" stroke-linecap="round" stroke-linejoin="round" filter="url(#b2)"/><path d="M17.6 102.3L18.12 101.74M29.93 77.12L30.1 76.06M52.4 10.85L53.36 9.38M57.99 9.69L58.8 10.85M85.3 99.6L85.82 101.06M89.16 99.59L89.8 99M93.1 103.4L93.6 102.86M106.05 76.94L106.3 75.8" fill="none" stroke="#fff" stroke-width="2.4" stroke-opacity="0.02" stroke-linecap="round" stroke-linejoin="round" filter="url(#b1)"/><path d="M29.77 78.17L29.93 77.12M53.36 9.38L54.14 8.44M57.19 8.72L57.99 9.69M88.41 100.69L89.16 99.59M105.82 78.03L106.05 76.94" fill="none" stroke="#fff" stroke-width="2.4" stroke-opacity="0.04" stroke-linecap="round" stroke-linejoin="round" filter="url(#b1)"/><path d="M18.12 101.74L18.65 100.67M29.61 79.19L29.77 78.17M54.14 8.44L54.85 7.95M56.4 8.05L57.19 8.72M85.82 101.06L86.35 102.01M87.65 101.77L88.41 100.69M93.6 102.86L94.14 101.83M105.6 79.05L105.82 78.03" fill="none" stroke="#fff" stroke-width="2.4" stroke-opacity="0.06" stroke-linecap="round" stroke-linejoin="round" filter="url(#b1)"/><path d="M29.46 80.18L29.61 79.19M86.35 102.01L87 102.3M94.14 101.83L94.7 100.62M105.4 80.01L105.6 79.05" fill="none" stroke="#fff" stroke-width="2.4" stroke-opacity="0.08" stroke-linecap="round" stroke-linejoin="round" filter="url(#b1)"/><path d="M29.3 81.12L29.46 80.18M54.85 7.95L55.6 7.8L56.4 8.05M87 102.3L87.65 101.77M105.18 80.88L105.4 80.01" fill="none" stroke="#fff" stroke-width="2.4" stroke-opacity="0.1" stroke-linecap="round" stroke-linejoin="round" filter="url(#b1)"/><path d="M18.65 100.67L19.3 99.6M29.12 81.99L29.3 81.12M94.7 100.62L95.3 99.6M104.95 81.68L105.18 80.88" fill="none" stroke="#fff" stroke-width="2.4" stroke-opacity="0.12" stroke-linecap="round" stroke-linejoin="round" filter="url(#b1)"/><path d="M19.3 99.6L19.94 98.94L20.67 98.31L21.42 97.61M28.93 82.79L29.12 81.99M95.3 99.6L95.95 98.89L96.64 98.31L97.34 97.67L98 96.8M104.7 82.4L104.95 81.68" fill="none" stroke="#fff" stroke-width="2.4" stroke-opacity="0.14" stroke-linecap="round" stroke-linejoin="round" filter="url(#b1)"/><path d="M21.42 97.61L22.1 96.8L22.59 96.04L23.05 95.21M28.7 83.5L28.93 82.79M98 96.8L98.41 96.05L98.8 95.19L99.18 94.26L99.56 93.28M104.19 83.29L104.7 82.4" fill="none" stroke="#fff" stroke-width="2.4" stroke-opacity="0.16" stroke-linecap="round" stroke-linejoin="round" filter="url(#b1)"/><path d="M23.05 95.21L23.49 94.32L23.91 93.38L24.3 92.4M28.06 84.66L28.7 83.5M99.56 93.28L99.93 92.28L100.3 91.3L100.67 90.28" fill="none" stroke="#fff" stroke-width="2.4" stroke-opacity="0.18" stroke-linecap="round" stroke-linejoin="round" filter="url(#b1)"/><path d="M24.3 92.4L24.59 91.52L24.83 90.57M27.3 85.39L28.06 84.66M100.67 90.28L101.04 89.19M103.64 83.83L104.19 83.29" fill="none" stroke="#fff" stroke-width="2.4" stroke-opacity="0.2" stroke-linecap="round" stroke-linejoin="round" filter="url(#b1)"/><path d="M24.83 90.57L25.06 89.59M26.54 86.02L27.3 85.39M101.04 89.19L101.41 88.08L101.77 87.01M103.06 84.36L103.64 83.83" fill="none" stroke="#fff" stroke-width="2.4" stroke-opacity="0.22" stroke-linecap="round" stroke-linejoin="round" filter="url(#b1)"/><path d="M25.06 89.59L25.3 88.62L25.57 87.71M101.77 87.01L102.13 86.03L102.5 85.2L103.06 84.36" fill="none" stroke="#fff" stroke-width="2.4" stroke-opacity="0.24" stroke-linecap="round" stroke-linejoin="round" filter="url(#b1)"/><path d="M25.57 87.71L25.9 86.9L26.54 86.02" fill="none" stroke="#fff" stroke-width="2.4" stroke-opacity="0.26" stroke-linecap="round" stroke-linejoin="round" filter="url(#b1)"/><path d="M9.3 31.3L9.89 30.16M12.06 29.43L13.2 30.2M42.89 73.4L43.02 74.12M63.97 77.44L64.5 76.56M73.61 55.84L74.01 54.88L74.41 53.92M88.87 29.69L89.8 30.2" fill="none" stroke="#fff" stroke-width="2.2" stroke-opacity="0.02" stroke-linecap="round" stroke-linejoin="round" filter="url(#b1)"/><path d="M9.89 30.16L10.41 29.44M43.02 74.12L43.16 74.81M63.37 78.38L63.97 77.44M74.41 53.92L74.81 52.96L75.22 51.99M87.87 29.19L88.87 29.69" fill="none" stroke="#fff" stroke-width="2.2" stroke-opacity="0.04" stroke-linecap="round" stroke-linejoin="round" filter="url(#b1)"/><path d="M10.41 29.44L11 29.1L12.06 29.43M43.16 74.81L43.6 75.8M62.73 79.32L63.37 78.38M75.22 51.99L75.63 51.03L76.06 50.07M87 29.1L87.87 29.19" fill="none" stroke="#fff" stroke-width="2.2" stroke-opacity="0.06" stroke-linecap="round" stroke-linejoin="round" filter="url(#b1)"/><path d="M43.6 75.8L43.99 76.48L44.45 77.26L44.98 78.09L45.56 78.97L46.16 79.86L46.78 80.75L47.4 81.6L48 82.4M58.8 84.1L59.54 83.4L60.22 82.64L60.87 81.85L61.49 81.03L62.1 80.2L62.73 79.32M76.06 50.07L76.5 49.1L76.91 48.22L77.34 47.3L77.78 46.37L78.23 45.44L78.67 44.52L79.12 43.63L79.56 42.79M81.84 39.46L82.53 38.76L83.16 38.04L83.7 37.2L84.06 36.34L84.36 35.4L84.6 34.41L84.82 33.45L85.05 32.56L85.3 31.8L85.82 30.56L86.35 29.62L87 29.1" fill="none" stroke="#fff" stroke-width="2.2" stroke-opacity="0.08" stroke-linecap="round" stroke-linejoin="round" filter="url(#b1)"/><path d="M48 82.4L48.62 83.19L49.29 84.03L49.99 84.87L50.69 85.68L51.36 86.43M53.74 87.98L54.4 86.9L55.11 86.47L56 85.96L56.98 85.38L57.94 84.76L58.8 84.1M79.56 42.79L79.99 42L80.4 41.3L81.13 40.26L81.84 39.46" fill="none" stroke="#fff" stroke-width="2.2" stroke-opacity="0.1" stroke-linecap="round" stroke-linejoin="round" filter="url(#b1)"/><path d="M51.36 86.43L51.99 87.09L52.54 87.63L53 88L53.74 87.98" fill="none" stroke="#fff" stroke-width="2.2" stroke-opacity="0.12" stroke-linecap="round" stroke-linejoin="round" filter="url(#b1)"/><ellipse cx="27.3" cy="82" rx="2.6" ry="9" fill="#fff" fill-opacity="0.17" filter="url(#b2)" transform="rotate(20 27.3 82)"/><ellipse cx="103.8" cy="81" rx="2.6" ry="9" fill="#fff" fill-opacity="0.15" filter="url(#b2)" transform="rotate(20 103.8 81)"/><path d="M6 86.9L6.17 87.53L6.4 88.36L6.67 89.36L6.97 90.47L7.29 91.65L7.61 92.84L7.93 93.99L8.23 95.06L8.5 96M110.66 57.36L110.85 56.6L111 56" fill="none" stroke="#fff" stroke-width="1.15" stroke-opacity="0.06" stroke-linecap="butt" stroke-linejoin="round"/><path d="M8.5 96L8.8 97.14M74.9 63.7L75.15 64.64L75.4 65.6L75.66 66.58L75.94 67.55M109.89 60.39L110.17 59.29L110.42 58.27L110.66 57.36" fill="none" stroke="#fff" stroke-width="1.15" stroke-opacity="0.09" stroke-linecap="butt" stroke-linejoin="round"/><path d="M8.8 97.14L9.07 98.3M13.8 98.5L14.64 98.74L15.35 99.63L16 100.5M70.11 43.41L70.4 44.6L70.59 45.41L70.8 46.29L71.01 47.21L71.23 48.16L71.45 49.15L71.68 50.15L71.91 51.16L72.13 52.17L72.36 53.16L72.58 54.13L72.8 55.07L73 55.96L73.2 56.8L73.47 57.93L73.72 58.98L73.97 59.98L74.2 60.94L74.43 61.87L74.67 62.79L74.9 63.7M75.94 67.55L76.21 68.51L76.49 69.48L76.77 70.46L77.06 71.44L77.34 72.44L77.62 73.46L77.9 74.5L78.15 75.47L78.39 76.48M109.02 63.85L109.31 62.7L109.6 61.53L109.89 60.39" fill="none" stroke="#fff" stroke-width="1.15" stroke-opacity="0.12" stroke-linecap="butt" stroke-linejoin="round"/><path d="M9.07 98.3L9.32 99.43M13.19 99.05L13.8 98.5M16 100.5L16.83 101.69M34.59 58.82L34.95 57.85L35.3 56.8L35.58 55.89L35.85 54.94L36.13 53.96M69.36 40.42L69.6 41.35L69.84 42.34L70.11 43.41M78.39 76.48L78.62 77.51L78.86 78.56L79.1 79.62L79.34 80.67L79.59 81.7L79.85 82.71M90.9 100.11L91.4 101M108.27 67L108.5 66L108.75 64.96L109.02 63.85" fill="none" stroke="#fff" stroke-width="1.15" stroke-opacity="0.15" stroke-linecap="butt" stroke-linejoin="round"/><path d="M9.32 99.43L9.58 100.45L9.85 101.32M12.5 100.09L13.19 99.05M32.82 63.42L33.16 62.43L33.51 61.51L33.86 60.62L34.22 59.73L34.59 58.82M36.13 53.96L36.4 52.96L36.67 51.93L36.95 50.9L37.23 49.86L37.51 48.82L37.8 47.8M68.6 37.58L68.86 38.58L69.12 39.51L69.36 40.42M79.85 82.71L80.12 83.68L80.4 84.6L80.79 85.69L81.21 86.73L81.65 87.72L82.11 88.68L82.55 89.62L82.98 90.55M89.8 99L90.42 99.26L90.9 100.11M91.4 101L91.94 102M107.8 69.06L108.03 68.02L108.27 67" fill="none" stroke="#fff" stroke-width="1.15" stroke-opacity="0.18" stroke-linecap="butt" stroke-linejoin="round"/><path d="M9.85 101.32L10.15 101.95M11.09 102.09L11.78 101.23L12.5 100.09M16.83 101.69L17.6 102.3M31.84 67.22L32.06 66.27L32.28 65.36L32.5 64.5L32.82 63.42M37.8 47.8L38.1 46.8L38.39 45.84L38.68 44.91L38.95 44.01L39.24 43.12L39.52 42.22M67.58 33.83L67.83 34.75L68.07 35.65L68.3 36.5L68.6 37.58M82.98 90.55L83.36 91.47L83.7 92.4L84.02 93.5L84.28 94.63L84.5 95.76M89.16 99.59L89.8 99M91.94 102L92.49 103.04M107.57 70.09L107.8 69.06" fill="none" stroke="#fff" stroke-width="1.15" stroke-opacity="0.21" stroke-linecap="butt" stroke-linejoin="round"/><path d="M10.15 101.95L10.5 102.3L11.09 102.09M31.23 70.2L31.43 69.2L31.63 68.2L31.84 67.22M39.52 42.22L39.83 41.29L40.15 40.32L40.5 39.3L40.88 38.19L41.3 37L41.58 36.19M66.24 29.04L66.52 29.99L66.79 30.96L67.06 31.93L67.32 32.89L67.58 33.83M84.5 95.76L84.7 96.86L84.89 97.89L85.08 98.81L85.3 99.6M92.49 103.04L93.1 103.4M107.12 72.12L107.34 71.11L107.57 70.09" fill="none" stroke="#fff" stroke-width="1.15" stroke-opacity="0.24" stroke-linecap="butt" stroke-linejoin="round"/><path d="M17.6 102.3L18.12 101.74M30.66 73.17L30.84 72.2L31.03 71.21L31.23 70.2M41.58 36.19L41.89 35.34L42.2 34.44L42.53 33.5L42.88 32.54L43.23 31.55M65.05 25.25L65.4 26.3L65.68 27.18L65.96 28.1L66.24 29.04M85.3 99.6L85.82 101.06M88.41 100.69L89.16 99.59M93.1 103.4L93.6 102.86M106.7 74.05L106.91 73.1L107.12 72.12" fill="none" stroke="#fff" stroke-width="1.15" stroke-opacity="0.27" stroke-linecap="butt" stroke-linejoin="round"/><path d="M30.1 76.06L30.3 75L30.48 74.11L30.66 73.17M43.23 31.55L43.59 30.54L43.96 29.53L44.33 28.51L44.7 27.5L45.08 26.5L45.45 25.51M62.47 18.38L62.84 19.28L63.21 20.22L63.59 21.19L63.96 22.17L64.33 23.18L64.69 24.21L65.05 25.25M85.82 101.06L86.35 102.01M87.65 101.77L88.41 100.69M106.3 75.8L106.49 74.95L106.7 74.05" fill="none" stroke="#fff" stroke-width="1.15" stroke-opacity="0.3" stroke-linecap="butt" stroke-linejoin="round"/><path d="M29.93 77.12L30.1 76.06M45.45 25.51L45.82 24.56L46.19 23.63L46.55 22.74L46.9 21.9L47.37 20.81L47.85 19.73L48.34 18.67L48.83 17.62L49.32 16.6L49.8 15.62L50.28 14.68L50.74 13.79L51.19 12.96L51.62 12.18L52.02 11.48L52.4 10.85L53.36 9.38L54.14 8.44M57.99 9.69L58.8 10.85L59.27 11.59L59.74 12.42L60.21 13.34L60.68 14.31L61.15 15.34L61.63 16.41L62.1 17.5L62.47 18.38M86.35 102.01L87 102.3L87.65 101.77M93.6 102.86L94.14 101.83M106.05 76.94L106.3 75.8" fill="none" stroke="#fff" stroke-width="1.15" stroke-opacity="0.33" stroke-linecap="butt" stroke-linejoin="round"/><path d="M18.12 101.74L18.65 100.67M29.77 78.17L29.93 77.12M54.14 8.44L54.85 7.95L55.6 7.8L56.4 8.05L57.19 8.72L57.99 9.69M94.14 101.83L94.7 100.62M105.82 78.03L106.05 76.94" fill="none" stroke="#fff" stroke-width="1.15" stroke-opacity="0.36" stroke-linecap="butt" stroke-linejoin="round"/><path d="M29.61 79.19L29.77 78.17M105.6 79.05L105.82 78.03" fill="none" stroke="#fff" stroke-width="1.15" stroke-opacity="0.39" stroke-linecap="butt" stroke-linejoin="round"/><path d="M18.65 100.67L19.3 99.6M29.46 80.18L29.61 79.19M94.7 100.62L95.3 99.6M105.4 80.01L105.6 79.05" fill="none" stroke="#fff" stroke-width="1.15" stroke-opacity="0.42" stroke-linecap="butt" stroke-linejoin="round"/><path d="M19.3 99.6L19.94 98.94M29.3 81.12L29.46 80.18M95.3 99.6L95.95 98.89M105.18 80.88L105.4 80.01" fill="none" stroke="#fff" stroke-width="1.15" stroke-opacity="0.45" stroke-linecap="butt" stroke-linejoin="round"/><path d="M19.94 98.94L20.67 98.31L21.42 97.61M29.12 81.99L29.3 81.12M95.95 98.89L96.64 98.31L97.34 97.67L98 96.8M104.95 81.68L105.18 80.88" fill="none" stroke="#fff" stroke-width="1.15" stroke-opacity="0.48" stroke-linecap="butt" stroke-linejoin="round"/><path d="M21.42 97.61L22.1 96.8M28.93 82.79L29.12 81.99M98 96.8L98.41 96.05M104.7 82.4L104.95 81.68" fill="none" stroke="#fff" stroke-width="1.15" stroke-opacity="0.51" stroke-linecap="butt" stroke-linejoin="round"/><path d="M22.1 96.8L22.59 96.04L23.05 95.21M28.7 83.5L28.93 82.79M98.41 96.05L98.8 95.19L99.18 94.26" fill="none" stroke="#fff" stroke-width="1.15" stroke-opacity="0.54" stroke-linecap="butt" stroke-linejoin="round"/><path d="M23.05 95.21L23.49 94.32M99.18 94.26L99.56 93.28L99.93 92.28M104.19 83.29L104.7 82.4" fill="none" stroke="#fff" stroke-width="1.15" stroke-opacity="0.57" stroke-linecap="butt" stroke-linejoin="round"/><path d="M23.49 94.32L23.91 93.38L24.3 92.4M28.06 84.66L28.7 83.5M99.93 92.28L100.3 91.3" fill="none" stroke="#fff" stroke-width="1.15" stroke-opacity="0.6" stroke-linecap="butt" stroke-linejoin="round"/><path d="M24.3 92.4L24.59 91.52M100.3 91.3L100.67 90.28M103.64 83.83L104.19 83.29" fill="none" stroke="#fff" stroke-width="1.15" stroke-opacity="0.63" stroke-linecap="butt" stroke-linejoin="round"/><path d="M27.3 85.39L28.06 84.66M100.67 90.28L101.04 89.19" fill="none" stroke="#fff" stroke-width="1.15" stroke-opacity="0.66" stroke-linecap="butt" stroke-linejoin="round"/><path d="M24.59 91.52L24.83 90.57M101.04 89.19L101.41 88.08" fill="none" stroke="#fff" stroke-width="1.15" stroke-opacity="0.69" stroke-linecap="butt" stroke-linejoin="round"/><path d="M24.83 90.57L25.06 89.59M103.06 84.36L103.64 83.83" fill="none" stroke="#fff" stroke-width="1.15" stroke-opacity="0.72" stroke-linecap="butt" stroke-linejoin="round"/><path d="M26.54 86.02L27.3 85.39M101.41 88.08L101.77 87.01" fill="none" stroke="#fff" stroke-width="1.15" stroke-opacity="0.75" stroke-linecap="butt" stroke-linejoin="round"/><path d="M25.06 89.59L25.3 88.62M101.77 87.01L102.13 86.03" fill="none" stroke="#fff" stroke-width="1.15" stroke-opacity="0.78" stroke-linecap="butt" stroke-linejoin="round"/><path d="M25.3 88.62L25.57 87.71M102.5 85.2L103.06 84.36" fill="none" stroke="#fff" stroke-width="1.15" stroke-opacity="0.81" stroke-linecap="butt" stroke-linejoin="round"/><path d="M25.9 86.9L26.54 86.02M102.13 86.03L102.5 85.2" fill="none" stroke="#fff" stroke-width="1.15" stroke-opacity="0.84" stroke-linecap="butt" stroke-linejoin="round"/><path d="M25.57 87.71L25.9 86.9" fill="none" stroke="#fff" stroke-width="1.15" stroke-opacity="0.87" stroke-linecap="butt" stroke-linejoin="round"/><path d="M14.12 30.75L15.5 31.5M32.18 45.7L32.5 46.66L32.81 47.68L33.11 48.73L33.4 49.81" fill="none" stroke="#fff" stroke-width="1.1" stroke-opacity="0.03" stroke-linecap="butt" stroke-linejoin="round"/><path d="M33.4 49.81L33.68 50.9L33.95 51.98L34.22 53.05L34.49 54.08M91.07 30.82L92 31.3" fill="none" stroke="#fff" stroke-width="1.1" stroke-opacity="0.06" stroke-linecap="butt" stroke-linejoin="round"/><path d="M34.49 54.08L34.76 55.05L35.03 55.97L35.3 56.8L35.73 58.01" fill="none" stroke="#fff" stroke-width="1.1" stroke-opacity="0.09" stroke-linecap="butt" stroke-linejoin="round"/><path d="M13.66 30.46L14.12 30.75M35.73 58.01L36.15 59.08L36.55 60.06L36.94 60.96L37.34 61.83L37.74 62.69" fill="none" stroke="#fff" stroke-width="1.1" stroke-opacity="0.12" stroke-linecap="butt" stroke-linejoin="round"/><path d="M37.74 62.69L38.16 63.57L38.6 64.5L39.02 65.39M69.01 66.31L69.48 65.37L69.9 64.5L70.37 63.48L70.81 62.49L71.23 61.52L71.63 60.57L72.02 59.63L72.4 58.7L72.8 57.75L73.2 56.8L73.61 55.84" fill="none" stroke="#fff" stroke-width="1.1" stroke-opacity="0.15" stroke-linecap="butt" stroke-linejoin="round"/><path d="M13.2 30.2L13.66 30.46M39.02 65.39L39.48 66.31L39.96 67.25L40.45 68.2M66.97 70.25L67.48 69.28L67.99 68.29L68.51 67.29L69.01 66.31M73.61 55.84L74.01 54.88M89.8 30.2L91.07 30.82" fill="none" stroke="#fff" stroke-width="1.1" stroke-opacity="0.18" stroke-linecap="butt" stroke-linejoin="round"/><path d="M1.6 44.6L2.07 43.98L2.74 43.08M40.45 68.2L40.93 69.12L41.39 70.01L41.81 70.85M65.4 73.4L65.69 72.77L66.06 72.02L66.49 71.17L66.97 70.25M74.01 54.88L74.41 53.92L74.81 52.96" fill="none" stroke="#fff" stroke-width="1.1" stroke-opacity="0.21" stroke-linecap="butt" stroke-linejoin="round"/><path d="M2.74 43.08L3.5 42.06L4.26 41.05M12.06 29.43L13.2 30.2M41.81 70.85L42.19 71.62L42.5 72.3M65.04 74.88L65.4 73.4M74.81 52.96L75.22 51.99L75.63 51.03" fill="none" stroke="#fff" stroke-width="1.1" stroke-opacity="0.24" stroke-linecap="butt" stroke-linejoin="round"/><path d="M4.26 41.05L4.9 40.2L5.53 39.46L6.07 38.91L6.58 38.29L7.1 37.4L7.47 36.53L7.85 35.47L8.23 34.31L8.6 33.17L8.96 32.13L9.3 31.3L9.89 30.16M11 29.1L12.06 29.43M42.5 72.3L42.89 73.4L43.02 74.12L43.16 74.81M64.9 75.8L65.04 74.88M75.63 51.03L76.06 50.07M88.87 29.69L89.8 30.2" fill="none" stroke="#fff" stroke-width="1.1" stroke-opacity="0.27" stroke-linecap="butt" stroke-linejoin="round"/><path d="M9.89 30.16L10.41 29.44L11 29.1M43.16 74.81L43.6 75.8L43.99 76.48L44.45 77.26M63.37 78.38L63.97 77.44L64.5 76.56L64.9 75.8M76.06 50.07L76.5 49.1L76.91 48.22L77.34 47.3M87 29.1L87.87 29.19L88.87 29.69" fill="none" stroke="#fff" stroke-width="1.1" stroke-opacity="0.3" stroke-linecap="butt" stroke-linejoin="round"/><path d="M44.45 77.26L44.98 78.09L45.56 78.97L46.16 79.86L46.78 80.75M61.49 81.03L62.1 80.2L62.73 79.32L63.37 78.38M77.34 47.3L77.78 46.37L78.23 45.44L78.67 44.52M83.16 38.04L83.7 37.2L84.06 36.34L84.36 35.4L84.6 34.41L84.82 33.45L85.05 32.56L85.3 31.8L85.82 30.56L86.35 29.62L87 29.1" fill="none" stroke="#fff" stroke-width="1.1" stroke-opacity="0.33" stroke-linecap="butt" stroke-linejoin="round"/><path d="M46.78 80.75L47.4 81.6L48 82.4L48.62 83.19M57.94 84.76L58.8 84.1L59.54 83.4L60.22 82.64L60.87 81.85L61.49 81.03M78.67 44.52L79.12 43.63L79.56 42.79L79.99 42M81.13 40.26L81.84 39.46L82.53 38.76L83.16 38.04" fill="none" stroke="#fff" stroke-width="1.1" stroke-opacity="0.36" stroke-linecap="butt" stroke-linejoin="round"/><path d="M48.62 83.19L49.29 84.03L49.99 84.87M55.11 86.47L56 85.96L56.98 85.38L57.94 84.76M79.99 42L80.4 41.3L81.13 40.26" fill="none" stroke="#fff" stroke-width="1.1" stroke-opacity="0.39" stroke-linecap="butt" stroke-linejoin="round"/><path d="M49.99 84.87L50.69 85.68L51.36 86.43M53.74 87.98L54.4 86.9L55.11 86.47" fill="none" stroke="#fff" stroke-width="1.1" stroke-opacity="0.42" stroke-linecap="butt" stroke-linejoin="round"/><path d="M51.36 86.43L51.99 87.09L52.54 87.63" fill="none" stroke="#fff" stroke-width="1.1" stroke-opacity="0.45" stroke-linecap="butt" stroke-linejoin="round"/><path d="M52.54 87.63L53 88L53.74 87.98" fill="none" stroke="#fff" stroke-width="1.1" stroke-opacity="0.48" stroke-linecap="butt" stroke-linejoin="round"/><path d="M53 72V104" fill="none" stroke="#fff" stroke-width="0.8" stroke-opacity="0.16" stroke-linecap="round" stroke-linejoin="round"/><path d="M53 82V95" fill="none" stroke="#fff" stroke-width="1" stroke-opacity="0.18" stroke-linecap="round" stroke-linejoin="round"/><path d="M55.6 2V20" fill="none" stroke="#fff" stroke-width="0.8" stroke-opacity="0.13" stroke-linecap="round" stroke-linejoin="round"/><path d="M25.2 63V75" fill="none" stroke="#fff" stroke-width="0.8" stroke-opacity="0.06" stroke-linecap="round" stroke-linejoin="round"/><path d="M25.4 99V112" fill="none" stroke="#fff" stroke-width="0.9" stroke-opacity="0.1" stroke-linecap="round" stroke-linejoin="round"/><path d="M16 96V109" fill="none" stroke="#fff" stroke-width="0.9" stroke-opacity="0.11" stroke-linecap="round" stroke-linejoin="round"/><path d="M91.4 95V110" fill="none" stroke="#fff" stroke-width="0.9" stroke-opacity="0.13" stroke-linecap="round" stroke-linejoin="round"/><path d="M101 64V74" fill="none" stroke="#fff" stroke-width="0.8" stroke-opacity="0.06" stroke-linecap="round" stroke-linejoin="round"/><path d="M43.6 74V87" fill="none" stroke="#fff" stroke-width="0.8" stroke-opacity="0.06" stroke-linecap="round" stroke-linejoin="round"/><path d="M62.7 75V92" fill="none" stroke="#fff" stroke-width="0.8" stroke-opacity="0.06" stroke-linecap="round" stroke-linejoin="round"/><path d="M35.3 44V58" fill="none" stroke="#fff" stroke-width="0.8" stroke-opacity="0.06" stroke-linecap="round" stroke-linejoin="round"/><path d="M73.2 46V58" fill="none" stroke="#fff" stroke-width="0.8" stroke-opacity="0.06" stroke-linecap="round" stroke-linejoin="round"/><path d="M6.3 85V100" fill="none" stroke="#fff" stroke-width="0.7" stroke-opacity="0.04" stroke-linecap="round" stroke-linejoin="round"/><path d="M17.1 16V33" fill="none" stroke="#fff" stroke-width="0.7" stroke-opacity="0.05" stroke-linecap="round" stroke-linejoin="round"/><path d="M22.6 17.5L28.1 35.2" fill="none" stroke="#fff" stroke-width="0.8" stroke-opacity="0.07" stroke-linecap="round" stroke-linejoin="round"/><path d="M26.4 28.5v1M26.6 33.5v1" fill="none" stroke="#fff" stroke-width="1.2" stroke-opacity="0.16" stroke-linecap="round" stroke-linejoin="round"/><path d="M93.1 14V31" fill="none" stroke="#fff" stroke-width="0.7" stroke-opacity="0.06" stroke-linecap="round" stroke-linejoin="round"/><path d="M97 26v1M102 27.5v1M102 34v1" fill="none" stroke="#fff" stroke-width="1.2" stroke-opacity="0.1" stroke-linecap="round" stroke-linejoin="round"/></g></svg>
<svg class="ab" style="left:40.8px;top:181.4px" width="113.6" height="113.2" viewBox="0 0 113.6 113.2"><g filter="url(#pm)"><rect x="-5" y="-5" width="125" height="125" fill="#000"/><path d="M18.65 100.67L19.3 99.6L19.94 98.94L20.67 98.31L21.42 97.61L22.1 96.8L22.59 96.04L23.05 95.21L23.49 94.32L23.91 93.38L24.3 92.4L24.59 91.52L24.83 90.57L25.06 89.59L25.3 88.62L25.57 87.71L25.9 86.9L26.54 86.02L27.3 85.39L28.06 84.66L28.7 83.5L28.93 82.79L29.12 81.99L29.3 81.12L29.46 80.18M94.7 100.62L95.3 99.6L95.95 98.89L96.64 98.31L97.34 97.67L98 96.8L98.41 96.05L98.8 95.19L99.18 94.26L99.56 93.28L99.93 92.28L100.3 91.3L100.67 90.28L101.04 89.19L101.41 88.08L101.77 87.01L102.13 86.03L102.5 85.2L103.06 84.36L103.64 83.83L104.19 83.29L104.7 82.4L104.95 81.68L105.18 80.88L105.4 80.01" fill="none" stroke="#fff" stroke-width="4.2" stroke-opacity="0.02" stroke-linecap="round" stroke-linejoin="round" filter="url(#b2)"/><path d="M18.12 101.74L18.65 100.67L19.3 99.6L19.94 98.94L20.67 98.31L21.42 97.61M28.93 82.79L29.12 81.99L29.3 81.12L29.46 80.18L29.61 79.19L29.77 78.17M54.14 8.44L54.85 7.95L55.6 7.8L56.4 8.05L57.19 8.72M85.82 101.06L86.35 102.01L87 102.3L87.65 101.77L88.41 100.69M93.6 102.86L94.14 101.83L94.7 100.62L95.3 99.6L95.95 98.89L96.64 98.31L97.34 97.67L98 96.8M104.7 82.4L104.95 81.68L105.18 80.88L105.4 80.01L105.6 79.05L105.82 78.03" fill="none" stroke="#fff" stroke-width="2.4" stroke-opacity="0.02" stroke-linecap="round" stroke-linejoin="round" filter="url(#b1)"/><path d="M21.42 97.61L22.1 96.8L22.59 96.04L23.05 95.21L23.49 94.32L23.91 93.38L24.3 92.4L24.59 91.52L24.83 90.57L25.06 89.59L25.3 88.62L25.57 87.71M26.54 86.02L27.3 85.39L28.06 84.66L28.7 83.5L28.93 82.79M98 96.8L98.41 96.05L98.8 95.19L99.18 94.26L99.56 93.28L99.93 92.28L100.3 91.3L100.67 90.28L101.04 89.19L101.41 88.08L101.77 87.01L102.13 86.03L102.5 85.2L103.06 84.36L103.64 83.83L104.19 83.29L104.7 82.4" fill="none" stroke="#fff" stroke-width="2.4" stroke-opacity="0.04" stroke-linecap="round" stroke-linejoin="round" filter="url(#b1)"/><path d="M25.57 87.71L25.9 86.9L26.54 86.02" fill="none" stroke="#fff" stroke-width="2.4" stroke-opacity="0.06" stroke-linecap="round" stroke-linejoin="round" filter="url(#b1)"/><path d="M10.41 29.44L11 29.1L12.06 29.43M43.16 74.81L43.6 75.8L43.99 76.48L44.45 77.26L44.98 78.09L45.56 78.97L46.16 79.86L46.78 80.75L47.4 81.6L48 82.4L48.62 83.19L49.29 84.03L49.99 84.87L50.69 85.68L51.36 86.43L51.99 87.09L52.54 87.63L53 88L53.74 87.98L54.4 86.9L55.11 86.47L56 85.96L56.98 85.38L57.94 84.76L58.8 84.1L59.54 83.4L60.22 82.64L60.87 81.85L61.49 81.03L62.1 80.2L62.73 79.32L63.37 78.38M75.22 51.99L75.63 51.03L76.06 50.07L76.5 49.1L76.91 48.22L77.34 47.3L77.78 46.37L78.23 45.44L78.67 44.52L79.12 43.63L79.56 42.79L79.99 42L80.4 41.3L81.13 40.26L81.84 39.46L82.53 38.76L83.16 38.04L83.7 37.2L84.06 36.34L84.36 35.4L84.6 34.41L84.82 33.45L85.05 32.56L85.3 31.8L85.82 30.56L86.35 29.62L87 29.1L87.87 29.19" fill="none" stroke="#fff" stroke-width="2.2" stroke-opacity="0.02" stroke-linecap="round" stroke-linejoin="round" filter="url(#b1)"/><ellipse cx="27.3" cy="82" rx="2.6" ry="9" fill="#fff" fill-opacity="0.03" filter="url(#b2)" transform="rotate(20 27.3 82)"/><path d="M8.5 96L8.8 97.14L9.07 98.3L9.32 99.43L9.58 100.45L9.85 101.32L10.15 101.95M11.09 102.09L11.78 101.23L12.5 100.09L13.19 99.05L13.8 98.5L14.64 98.74L15.35 99.63L16 100.5L16.83 101.69L17.6 102.3M31.84 67.22L32.06 66.27L32.28 65.36L32.5 64.5L32.82 63.42L33.16 62.43L33.51 61.51L33.86 60.62L34.22 59.73L34.59 58.82L34.95 57.85L35.3 56.8L35.58 55.89L35.85 54.94L36.13 53.96L36.4 52.96L36.67 51.93L36.95 50.9L37.23 49.86L37.51 48.82L37.8 47.8L38.1 46.8L38.39 45.84L38.68 44.91L38.95 44.01L39.24 43.12L39.52 42.22M67.58 33.83L67.83 34.75L68.07 35.65L68.3 36.5L68.6 37.58L68.86 38.58L69.12 39.51L69.36 40.42L69.6 41.35L69.84 42.34L70.11 43.41L70.4 44.6L70.59 45.41L70.8 46.29L71.01 47.21L71.23 48.16L71.45 49.15L71.68 50.15L71.91 51.16L72.13 52.17L72.36 53.16L72.58 54.13L72.8 55.07L73 55.96L73.2 56.8L73.47 57.93L73.72 58.98L73.97 59.98L74.2 60.94L74.43 61.87L74.67 62.79L74.9 63.7L75.15 64.64L75.4 65.6L75.66 66.58L75.94 67.55L76.21 68.51L76.49 69.48L76.77 70.46L77.06 71.44L77.34 72.44L77.62 73.46L77.9 74.5L78.15 75.47L78.39 76.48L78.62 77.51L78.86 78.56L79.1 79.62L79.34 80.67L79.59 81.7L79.85 82.71L80.12 83.68L80.4 84.6L80.79 85.69L81.21 86.73L81.65 87.72L82.11 88.68L82.55 89.62L82.98 90.55L83.36 91.47L83.7 92.4L84.02 93.5L84.28 94.63L84.5 95.76M89.8 99L90.42 99.26L90.9 100.11L91.4 101L91.94 102L92.49 103.04M107.57 70.09L107.8 69.06L108.03 68.02L108.27 67L108.5 66L108.75 64.96L109.02 63.85L109.31 62.7L109.6 61.53L109.89 60.39L110.17 59.29L110.42 58.27L110.66 57.36" fill="none" stroke="#fff" stroke-width="1.15" stroke-opacity="0.03" stroke-linecap="butt" stroke-linejoin="round"/><path d="M10.15 101.95L10.5 102.3L11.09 102.09M17.6 102.3L18.12 101.74M30.1 76.06L30.3 75L30.48 74.11L30.66 73.17L30.84 72.2L31.03 71.21L31.23 70.2L31.43 69.2L31.63 68.2L31.84 67.22M39.52 42.22L39.83 41.29L40.15 40.32L40.5 39.3L40.88 38.19L41.3 37L41.58 36.19L41.89 35.34L42.2 34.44L42.53 33.5L42.88 32.54L43.23 31.55L43.59 30.54L43.96 29.53L44.33 28.51L44.7 27.5L45.08 26.5L45.45 25.51L45.82 24.56L46.19 23.63L46.55 22.74L46.9 21.9L47.37 20.81L47.85 19.73L48.34 18.67L48.83 17.62L49.32 16.6L49.8 15.62L50.28 14.68L50.74 13.79L51.19 12.96L51.62 12.18L52.02 11.48L52.4 10.85L53.36 9.38L54.14 8.44M57.99 9.69L58.8 10.85L59.27 11.59L59.74 12.42L60.21 13.34L60.68 14.31L61.15 15.34L61.63 16.41L62.1 17.5L62.47 18.38L62.84 19.28L63.21 20.22L63.59 21.19L63.96 22.17L64.33 23.18L64.69 24.21L65.05 25.25L65.4 26.3L65.68 27.18L65.96 28.1L66.24 29.04L66.52 29.99L66.79 30.96L67.06 31.93L67.32 32.89L67.58 33.83M84.5 95.76L84.7 96.86L84.89 97.89L85.08 98.81L85.3 99.6L85.82 101.06L86.35 102.01M87.65 101.77L88.41 100.69L89.16 99.59L89.8 99M92.49 103.04L93.1 103.4L93.6 102.86M106.3 75.8L106.49 74.95L106.7 74.05L106.91 73.1L107.12 72.12L107.34 71.11L107.57 70.09" fill="none" stroke="#fff" stroke-width="1.15" stroke-opacity="0.06" stroke-linecap="butt" stroke-linejoin="round"/><path d="M29.93 77.12L30.1 76.06M54.14 8.44L54.85 7.95L55.6 7.8L56.4 8.05L57.19 8.72L57.99 9.69M86.35 102.01L87 102.3L87.65 101.77M93.6 102.86L94.14 101.83M105.82 78.03L106.05 76.94L106.3 75.8" fill="none" stroke="#fff" stroke-width="1.15" stroke-opacity="0.09" stroke-linecap="butt" stroke-linejoin="round"/><path d="M18.12 101.74L18.65 100.67M29.77 78.17L29.93 77.12M94.14 101.83L94.7 100.62M105.6 79.05L105.82 78.03" fill="none" stroke="#fff" stroke-width="1.15" stroke-opacity="0.12" stroke-linecap="butt" stroke-linejoin="round"/><path d="M18.65 100.67L19.3 99.6M29.61 79.19L29.77 78.17M94.7 100.62L95.3 99.6M105.4 80.01L105.6 79.05" fill="none" stroke="#fff" stroke-width="1.15" stroke-opacity="0.15" stroke-linecap="butt" stroke-linejoin="round"/><path d="M19.3 99.6L19.94 98.94M29.3 81.12L29.46 80.18L29.61 79.19M95.3 99.6L95.95 98.89M105.18 80.88L105.4 80.01" fill="none" stroke="#fff" stroke-width="1.15" stroke-opacity="0.18" stroke-linecap="butt" stroke-linejoin="round"/><path d="M19.94 98.94L20.67 98.31L21.42 97.61M29.12 81.99L29.3 81.12M95.95 98.89L96.64 98.31L97.34 97.67L98 96.8M104.95 81.68L105.18 80.88" fill="none" stroke="#fff" stroke-width="1.15" stroke-opacity="0.21" stroke-linecap="butt" stroke-linejoin="round"/><path d="M21.42 97.61L22.1 96.8M28.93 82.79L29.12 81.99M98 96.8L98.41 96.05L98.8 95.19M104.7 82.4L104.95 81.68" fill="none" stroke="#fff" stroke-width="1.15" stroke-opacity="0.24" stroke-linecap="butt" stroke-linejoin="round"/><path d="M22.1 96.8L22.59 96.04L23.05 95.21M28.7 83.5L28.93 82.79M98.8 95.19L99.18 94.26" fill="none" stroke="#fff" stroke-width="1.15" stroke-opacity="0.27" stroke-linecap="butt" stroke-linejoin="round"/><path d="M23.05 95.21L23.49 94.32M99.18 94.26L99.56 93.28L99.93 92.28M104.19 83.29L104.7 82.4" fill="none" stroke="#fff" stroke-width="1.15" stroke-opacity="0.3" stroke-linecap="butt" stroke-linejoin="round"/><path d="M23.49 94.32L23.91 93.38L24.3 92.4M28.06 84.66L28.7 83.5M99.93 92.28L100.3 91.3" fill="none" stroke="#fff" stroke-width="1.15" stroke-opacity="0.33" stroke-linecap="butt" stroke-linejoin="round"/><path d="M24.3 92.4L24.59 91.52M100.3 91.3L100.67 90.28M103.64 83.83L104.19 83.29" fill="none" stroke="#fff" stroke-width="1.15" stroke-opacity="0.36" stroke-linecap="butt" stroke-linejoin="round"/><path d="M27.3 85.39L28.06 84.66M100.67 90.28L101.04 89.19" fill="none" stroke="#fff" stroke-width="1.15" stroke-opacity="0.39" stroke-linecap="butt" stroke-linejoin="round"/><path d="M24.59 91.52L24.83 90.57M101.04 89.19L101.41 88.08" fill="none" stroke="#fff" stroke-width="1.15" stroke-opacity="0.42" stroke-linecap="butt" stroke-linejoin="round"/><path d="M24.83 90.57L25.06 89.59M103.06 84.36L103.64 83.83" fill="none" stroke="#fff" stroke-width="1.15" stroke-opacity="0.45" stroke-linecap="butt" stroke-linejoin="round"/><path d="M26.54 86.02L27.3 85.39M101.41 88.08L101.77 87.01" fill="none" stroke="#fff" stroke-width="1.15" stroke-opacity="0.48" stroke-linecap="butt" stroke-linejoin="round"/><path d="M25.06 89.59L25.3 88.62M101.77 87.01L102.13 86.03" fill="none" stroke="#fff" stroke-width="1.15" stroke-opacity="0.51" stroke-linecap="butt" stroke-linejoin="round"/><path d="M25.3 88.62L25.57 87.71M102.5 85.2L103.06 84.36" fill="none" stroke="#fff" stroke-width="1.15" stroke-opacity="0.54" stroke-linecap="butt" stroke-linejoin="round"/><path d="M25.9 86.9L26.54 86.02M102.13 86.03L102.5 85.2" fill="none" stroke="#fff" stroke-width="1.15" stroke-opacity="0.57" stroke-linecap="butt" stroke-linejoin="round"/><path d="M25.57 87.71L25.9 86.9" fill="none" stroke="#fff" stroke-width="1.15" stroke-opacity="0.6" stroke-linecap="butt" stroke-linejoin="round"/><path d="M1.6 44.6L2.07 43.98L2.74 43.08M13.2 30.2L13.66 30.46L14.12 30.75M34.49 54.08L34.76 55.05L35.03 55.97L35.3 56.8L35.73 58.01L36.15 59.08L36.55 60.06L36.94 60.96L37.34 61.83L37.74 62.69L38.16 63.57L38.6 64.5L39.02 65.39L39.48 66.31L39.96 67.25L40.45 68.2L40.93 69.12L41.39 70.01L41.81 70.85M65.4 73.4L65.69 72.77L66.06 72.02L66.49 71.17L66.97 70.25L67.48 69.28L67.99 68.29L68.51 67.29L69.01 66.31L69.48 65.37L69.9 64.5L70.37 63.48L70.81 62.49L71.23 61.52L71.63 60.57L72.02 59.63L72.4 58.7L72.8 57.75L73.2 56.8L73.61 55.84L74.01 54.88L74.41 53.92L74.81 52.96M89.8 30.2L91.07 30.82" fill="none" stroke="#fff" stroke-width="1.1" stroke-opacity="0.03" stroke-linecap="butt" stroke-linejoin="round"/><path d="M2.74 43.08L3.5 42.06L4.26 41.05L4.9 40.2L5.53 39.46L6.07 38.91L6.58 38.29L7.1 37.4L7.47 36.53L7.85 35.47L8.23 34.31L8.6 33.17L8.96 32.13L9.3 31.3L9.89 30.16L10.41 29.44L11 29.1L12.06 29.43L13.2 30.2M41.81 70.85L42.19 71.62L42.5 72.3L42.89 73.4L43.02 74.12L43.16 74.81L43.6 75.8L43.99 76.48L44.45 77.26L44.98 78.09L45.56 78.97M61.49 81.03L62.1 80.2L62.73 79.32L63.37 78.38L63.97 77.44L64.5 76.56L64.9 75.8L65.04 74.88L65.4 73.4M74.81 52.96L75.22 51.99L75.63 51.03L76.06 50.07L76.5 49.1L76.91 48.22L77.34 47.3L77.78 46.37M83.16 38.04L83.7 37.2L84.06 36.34L84.36 35.4L84.6 34.41L84.82 33.45L85.05 32.56L85.3 31.8L85.82 30.56L86.35 29.62L87 29.1L87.87 29.19L88.87 29.69L89.8 30.2" fill="none" stroke="#fff" stroke-width="1.1" stroke-opacity="0.06" stroke-linecap="butt" stroke-linejoin="round"/><path d="M45.56 78.97L46.16 79.86L46.78 80.75L47.4 81.6L48 82.4L48.62 83.19M57.94 84.76L58.8 84.1L59.54 83.4L60.22 82.64L60.87 81.85L61.49 81.03M77.78 46.37L78.23 45.44L78.67 44.52L79.12 43.63L79.56 42.79L79.99 42M81.13 40.26L81.84 39.46L82.53 38.76L83.16 38.04" fill="none" stroke="#fff" stroke-width="1.1" stroke-opacity="0.09" stroke-linecap="butt" stroke-linejoin="round"/><path d="M48.62 83.19L49.29 84.03L49.99 84.87M55.11 86.47L56 85.96L56.98 85.38L57.94 84.76M79.99 42L80.4 41.3L81.13 40.26" fill="none" stroke="#fff" stroke-width="1.1" stroke-opacity="0.12" stroke-linecap="butt" stroke-linejoin="round"/><path d="M49.99 84.87L50.69 85.68L51.36 86.43M53.74 87.98L54.4 86.9L55.11 86.47" fill="none" stroke="#fff" stroke-width="1.1" stroke-opacity="0.15" stroke-linecap="butt" stroke-linejoin="round"/><path d="M51.36 86.43L51.99 87.09L52.54 87.63M53 88L53.74 87.98" fill="none" stroke="#fff" stroke-width="1.1" stroke-opacity="0.18" stroke-linecap="butt" stroke-linejoin="round"/><path d="M52.54 87.63L53 88" fill="none" stroke="#fff" stroke-width="1.1" stroke-opacity="0.21" stroke-linecap="butt" stroke-linejoin="round"/><path d="M53 72V104" fill="none" stroke="#fff" stroke-width="0.8" stroke-opacity="0.06" stroke-linecap="round" stroke-linejoin="round"/><path d="M53 82V95" fill="none" stroke="#fff" stroke-width="1" stroke-opacity="0.08" stroke-linecap="round" stroke-linejoin="round"/><path d="M55.6 2V20" fill="none" stroke="#fff" stroke-width="0.8" stroke-opacity="0.03" stroke-linecap="round" stroke-linejoin="round"/><path d="M25.2 63V75" fill="none" stroke="#fff" stroke-width="0.8" stroke-opacity="0.01" stroke-linecap="round" stroke-linejoin="round"/><path d="M25.4 99V112" fill="none" stroke="#fff" stroke-width="0.9" stroke-opacity="0.02" stroke-linecap="round" stroke-linejoin="round"/><path d="M16 96V109" fill="none" stroke="#fff" stroke-width="0.9" stroke-opacity="0.02" stroke-linecap="round" stroke-linejoin="round"/><path d="M91.4 95V110" fill="none" stroke="#fff" stroke-width="0.9" stroke-opacity="0.03" stroke-linecap="round" stroke-linejoin="round"/><path d="M101 64V74" fill="none" stroke="#fff" stroke-width="0.8" stroke-opacity="0.01" stroke-linecap="round" stroke-linejoin="round"/><path d="M43.6 74V87" fill="none" stroke="#fff" stroke-width="0.8" stroke-opacity="0.01" stroke-linecap="round" stroke-linejoin="round"/><path d="M62.7 75V92" fill="none" stroke="#fff" stroke-width="0.8" stroke-opacity="0.01" stroke-linecap="round" stroke-linejoin="round"/><path d="M35.3 44V58" fill="none" stroke="#fff" stroke-width="0.8" stroke-opacity="0.01" stroke-linecap="round" stroke-linejoin="round"/><path d="M73.2 46V58" fill="none" stroke="#fff" stroke-width="0.8" stroke-opacity="0.01" stroke-linecap="round" stroke-linejoin="round"/><path d="M6.3 85V100" fill="none" stroke="#fff" stroke-width="0.7" stroke-opacity="0.01" stroke-linecap="round" stroke-linejoin="round"/><path d="M17.1 16V33" fill="none" stroke="#fff" stroke-width="0.7" stroke-opacity="0.01" stroke-linecap="round" stroke-linejoin="round"/><path d="M22.6 17.5L28.1 35.2" fill="none" stroke="#fff" stroke-width="0.8" stroke-opacity="0.01" stroke-linecap="round" stroke-linejoin="round"/><path d="M26.4 28.5v1M26.6 33.5v1" fill="none" stroke="#fff" stroke-width="1.2" stroke-opacity="0.06" stroke-linecap="round" stroke-linejoin="round"/><path d="M93.1 14V31" fill="none" stroke="#fff" stroke-width="0.7" stroke-opacity="0.01" stroke-linecap="round" stroke-linejoin="round"/><path d="M97 26v1M102 27.5v1M102 34v1" fill="none" stroke="#fff" stroke-width="1.2" stroke-opacity="0.02" stroke-linecap="round" stroke-linejoin="round"/></g></svg>
<svg class="ab" style="left:225.3px;top:181.4px" width="113.6" height="113.2" viewBox="0 0 113.6 113.2"><g filter="url(#pm)"><rect x="-5" y="-5" width="125" height="125" fill="#000"/><path d="M19.3 99.6L19.94 98.94L20.67 98.31L21.42 97.61L22.1 96.8L22.59 96.04L23.05 95.21L23.49 94.32L23.91 93.38M28.06 84.66L28.7 83.5L28.93 82.79L29.12 81.99L29.3 81.12L29.46 80.18L29.61 79.19M95.3 99.6L95.95 98.89L96.64 98.31L97.34 97.67L98 96.8L98.41 96.05L98.8 95.19L99.18 94.26L99.56 93.28L99.93 92.28L100.3 91.3M104.19 83.29L104.7 82.4L104.95 81.68L105.18 80.88L105.4 80.01" fill="none" stroke="#fff" stroke-width="4.2" stroke-opacity="0.02" stroke-linecap="round" stroke-linejoin="round" filter="url(#b2)"/><path d="M23.91 93.38L24.3 92.4L24.59 91.52L24.83 90.57L25.06 89.59M27.3 85.39L28.06 84.66M100.3 91.3L100.67 90.28L101.04 89.19L101.41 88.08M103.06 84.36L103.64 83.83L104.19 83.29" fill="none" stroke="#fff" stroke-width="4.2" stroke-opacity="0.04" stroke-linecap="round" stroke-linejoin="round" filter="url(#b2)"/><path d="M25.06 89.59L25.3 88.62L25.57 87.71L25.9 86.9L26.54 86.02L27.3 85.39M101.41 88.08L101.77 87.01L102.13 86.03L102.5 85.2L103.06 84.36" fill="none" stroke="#fff" stroke-width="4.2" stroke-opacity="0.06" stroke-linecap="round" stroke-linejoin="round" filter="url(#b2)"/><path d="M17.6 102.3L18.12 101.74M29.77 78.17L29.93 77.12L30.1 76.06M53.36 9.38L54.14 8.44M57.19 8.72L57.99 9.69M85.82 101.06L86.35 102.01M88.41 100.69L89.16 99.59M93.6 102.86L94.14 101.83M105.82 78.03L106.05 76.94" fill="none" stroke="#fff" stroke-width="2.4" stroke-opacity="0.02" stroke-linecap="round" stroke-linejoin="round" filter="url(#b1)"/><path d="M18.12 101.74L18.65 100.67M29.61 79.19L29.77 78.17M54.14 8.44L54.85 7.95L55.6 7.8L56.4 8.05L57.19 8.72M86.35 102.01L87 102.3L87.65 101.77L88.41 100.69M94.14 101.83L94.7 100.62M105.4 80.01L105.6 79.05L105.82 78.03" fill="none" stroke="#fff" stroke-width="2.4" stroke-opacity="0.04" stroke-linecap="round" stroke-linejoin="round" filter="url(#b1)"/><path d="M18.65 100.67L19.3 99.6M29.3 81.12L29.46 80.18L29.61 79.19M94.7 100.62L95.3 99.6M105.18 80.88L105.4 80.01" fill="none" stroke="#fff" stroke-width="2.4" stroke-opacity="0.06" stroke-linecap="round" stroke-linejoin="round" filter="url(#b1)"/><path d="M19.3 99.6L19.94 98.94L20.67 98.31L21.42 97.61M28.93 82.79L29.12 81.99L29.3 81.12M95.3 99.6L95.95 98.89L96.64 98.31L97.34 97.67L98 96.8M104.7 82.4L104.95 81.68L105.18 80.88" fill="none" stroke="#fff" stroke-width="2.4" stroke-opacity="0.08" stroke-linecap="round" stroke-linejoin="round" filter="url(#b1)"/><path d="M21.42 97.61L22.1 96.8L22.59 96.04L23.05 95.21M28.7 83.5L28.93 82.79M98 96.8L98.41 96.05L98.8 95.19L99.18 94.26L99.56 93.28M104.19 83.29L104.7 82.4" fill="none" stroke="#fff" stroke-width="2.4" stroke-opacity="0.1" stroke-linecap="round" stroke-linejoin="round" filter="url(#b1)"/><path d="M23.05 95.21L23.49 94.32L23.91 93.38L24.3 92.4M28.06 84.66L28.7 83.5M99.56 93.28L99.93 92.28L100.3 91.3L100.67 90.28" fill="none" stroke="#fff" stroke-width="2.4" stroke-opacity="0.12" stroke-linecap="round" stroke-linejoin="round" filter="url(#b1)"/><path d="M24.3 92.4L24.59 91.52L24.83 90.57M27.3 85.39L28.06 84.66M100.67 90.28L101.04 89.19M103.64 83.83L104.19 83.29" fill="none" stroke="#fff" stroke-width="2.4" stroke-opacity="0.14" stroke-linecap="round" stroke-linejoin="round" filter="url(#b1)"/><path d="M24.83 90.57L25.06 89.59M26.54 86.02L27.3 85.39M101.04 89.19L101.41 88.08L101.77 87.01M103.06 84.36L103.64 83.83" fill="none" stroke="#fff" stroke-width="2.4" stroke-opacity="0.16" stroke-linecap="round" stroke-linejoin="round" filter="url(#b1)"/><path d="M25.06 89.59L25.3 88.62L25.57 87.71M101.77 87.01L102.13 86.03L102.5 85.2L103.06 84.36" fill="none" stroke="#fff" stroke-width="2.4" stroke-opacity="0.18" stroke-linecap="round" stroke-linejoin="round" filter="url(#b1)"/><path d="M25.57 87.71L25.9 86.9L26.54 86.02" fill="none" stroke="#fff" stroke-width="2.4" stroke-opacity="0.2" stroke-linecap="round" stroke-linejoin="round" filter="url(#b1)"/><path d="M10.41 29.44L11 29.1L12.06 29.43M43.16 74.81L43.6 75.8L43.99 76.48L44.45 77.26L44.98 78.09L45.56 78.97L46.16 79.86L46.78 80.75L47.4 81.6L48 82.4M58.8 84.1L59.54 83.4L60.22 82.64L60.87 81.85L61.49 81.03L62.1 80.2L62.73 79.32L63.37 78.38L63.97 77.44M75.22 51.99L75.63 51.03L76.06 50.07L76.5 49.1L76.91 48.22L77.34 47.3L77.78 46.37L78.23 45.44L78.67 44.52L79.12 43.63L79.56 42.79M82.53 38.76L83.16 38.04L83.7 37.2L84.06 36.34L84.36 35.4L84.6 34.41L84.82 33.45L85.05 32.56L85.3 31.8L85.82 30.56L86.35 29.62L87 29.1L87.87 29.19L88.87 29.69" fill="none" stroke="#fff" stroke-width="2.2" stroke-opacity="0.02" stroke-linecap="round" stroke-linejoin="round" filter="url(#b1)"/><path d="M48 82.4L48.62 83.19L49.29 84.03L49.99 84.87L50.69 85.68L51.36 86.43M53.74 87.98L54.4 86.9L55.11 86.47L56 85.96L56.98 85.38L57.94 84.76L58.8 84.1M79.56 42.79L79.99 42L80.4 41.3L81.13 40.26L81.84 39.46L82.53 38.76" fill="none" stroke="#fff" stroke-width="2.2" stroke-opacity="0.04" stroke-linecap="round" stroke-linejoin="round" filter="url(#b1)"/><path d="M51.36 86.43L51.99 87.09L52.54 87.63L53 88L53.74 87.98" fill="none" stroke="#fff" stroke-width="2.2" stroke-opacity="0.06" stroke-linecap="round" stroke-linejoin="round" filter="url(#b1)"/><ellipse cx="27.3" cy="82" rx="2.6" ry="9" fill="#fff" fill-opacity="0.11" filter="url(#b2)" transform="rotate(20 27.3 82)"/><ellipse cx="103.8" cy="81" rx="2.6" ry="9" fill="#fff" fill-opacity="0.09" filter="url(#b2)" transform="rotate(20 103.8 81)"/><path d="M8.5 96L8.8 97.14M74.9 63.7L75.15 64.64L75.4 65.6L75.66 66.58L75.94 67.55M110.17 59.29L110.42 58.27L110.66 57.36L110.85 56.6" fill="none" stroke="#fff" stroke-width="1.15" stroke-opacity="0.03" stroke-linecap="butt" stroke-linejoin="round"/><path d="M8.8 97.14L9.07 98.3M13.8 98.5L14.64 98.74L15.35 99.63L16 100.5M70.11 43.41L70.4 44.6L70.59 45.41L70.8 46.29L71.01 47.21L71.23 48.16L71.45 49.15L71.68 50.15L71.91 51.16L72.13 52.17L72.36 53.16L72.58 54.13L72.8 55.07L73 55.96L73.2 56.8L73.47 57.93L73.72 58.98L73.97 59.98L74.2 60.94L74.43 61.87L74.67 62.79L74.9 63.7M75.94 67.55L76.21 68.51L76.49 69.48L76.77 70.46L77.06 71.44L77.34 72.44L77.62 73.46L77.9 74.5L78.15 75.47L78.39 76.48L78.62 77.51M109.02 63.85L109.31 62.7L109.6 61.53L109.89 60.39L110.17 59.29" fill="none" stroke="#fff" stroke-width="1.15" stroke-opacity="0.06" stroke-linecap="butt" stroke-linejoin="round"/><path d="M9.07 98.3L9.32 99.43M13.19 99.05L13.8 98.5M16 100.5L16.83 101.69M34.59 58.82L34.95 57.85L35.3 56.8L35.58 55.89L35.85 54.94L36.13 53.96M69.36 40.42L69.6 41.35L69.84 42.34L70.11 43.41M78.62 77.51L78.86 78.56L79.1 79.62L79.34 80.67L79.59 81.7M90.9 100.11L91.4 101M108.27 67L108.5 66L108.75 64.96L109.02 63.85" fill="none" stroke="#fff" stroke-width="1.15" stroke-opacity="0.09" stroke-linecap="butt" stroke-linejoin="round"/><path d="M9.32 99.43L9.58 100.45L9.85 101.32M12.5 100.09L13.19 99.05M32.82 63.42L33.16 62.43L33.51 61.51L33.86 60.62L34.22 59.73L34.59 58.82M36.13 53.96L36.4 52.96L36.67 51.93L36.95 50.9L37.23 49.86L37.51 48.82L37.8 47.8M68.6 37.58L68.86 38.58L69.12 39.51L69.36 40.42M79.59 81.7L79.85 82.71L80.12 83.68L80.4 84.6L80.79 85.69L81.21 86.73L81.65 87.72L82.11 88.68L82.55 89.62L82.98 90.55M89.8 99L90.42 99.26L90.9 100.11M91.4 101L91.94 102M107.8 69.06L108.03 68.02L108.27 67" fill="none" stroke="#fff" stroke-width="1.15" stroke-opacity="0.12" stroke-linecap="butt" stroke-linejoin="round"/><path d="M9.85 101.32L10.15 101.95M11.09 102.09L11.78 101.23L12.5 100.09M16.83 101.69L17.6 102.3M31.84 67.22L32.06 66.27L32.28 65.36L32.5 64.5L32.82 63.42M37.8 47.8L38.1 46.8L38.39 45.84L38.68 44.91L38.95 44.01L39.24 43.12L39.52 42.22M67.58 33.83L67.83 34.75L68.07 35.65L68.3 36.5L68.6 37.58M82.98 90.55L83.36 91.47L83.7 92.4L84.02 93.5L84.28 94.63L84.5 95.76M89.16 99.59L89.8 99M91.94 102L92.49 103.04M107.57 70.09L107.8 69.06" fill="none" stroke="#fff" stroke-width="1.15" stroke-opacity="0.15" stroke-linecap="butt" stroke-linejoin="round"/><path d="M10.15 101.95L10.5 102.3L11.09 102.09M31.23 70.2L31.43 69.2L31.63 68.2L31.84 67.22M39.52 42.22L39.83 41.29L40.15 40.32L40.5 39.3L40.88 38.19L41.3 37L41.58 36.19M66.24 29.04L66.52 29.99L66.79 30.96L67.06 31.93L67.32 32.89L67.58 33.83M84.5 95.76L84.7 96.86L84.89 97.89L85.08 98.81L85.3 99.6M92.49 103.04L93.1 103.4M107.12 72.12L107.34 71.11L107.57 70.09" fill="none" stroke="#fff" stroke-width="1.15" stroke-opacity="0.18" stroke-linecap="butt" stroke-linejoin="round"/><path d="M17.6 102.3L18.12 101.74M30.66 73.17L30.84 72.2L31.03 71.21L31.23 70.2M41.58 36.19L41.89 35.34L42.2 34.44L42.53 33.5L42.88 32.54L43.23 31.55M65.05 25.25L65.4 26.3L65.68 27.18L65.96 28.1L66.24 29.04M85.3 99.6L85.82 101.06M88.41 100.69L89.16 99.59M93.1 103.4L93.6 102.86M106.7 74.05L106.91 73.1L107.12 72.12" fill="none" stroke="#fff" stroke-width="1.15" stroke-opacity="0.21" stroke-linecap="butt" stroke-linejoin="round"/><path d="M30.1 76.06L30.3 75L30.48 74.11L30.66 73.17M43.23 31.55L43.59 30.54L43.96 29.53L44.33 28.51L44.7 27.5L45.08 26.5L45.45 25.51M62.47 18.38L62.84 19.28L63.21 20.22L63.59 21.19L63.96 22.17L64.33 23.18L64.69 24.21L65.05 25.25M85.82 101.06L86.35 102.01M87.65 101.77L88.41 100.69M106.3 75.8L106.49 74.95L106.7 74.05" fill="none" stroke="#fff" stroke-width="1.15" stroke-opacity="0.24" stroke-linecap="butt" stroke-linejoin="round"/><path d="M29.93 77.12L30.1 76.06M45.45 25.51L45.82 24.56L46.19 23.63L46.55 22.74L46.9 21.9L47.37 20.81L47.85 19.73L48.34 18.67L48.83 17.62L49.32 16.6L49.8 15.62L50.28 14.68L50.74 13.79L51.19 12.96L51.62 12.18L52.02 11.48L52.4 10.85L53.36 9.38L54.14 8.44M57.99 9.69L58.8 10.85L59.27 11.59L59.74 12.42L60.21 13.34L60.68 14.31L61.15 15.34L61.63 16.41L62.1 17.5L62.47 18.38M86.35 102.01L87 102.3L87.65 101.77M93.6 102.86L94.14 101.83M106.05 76.94L106.3 75.8" fill="none" stroke="#fff" stroke-width="1.15" stroke-opacity="0.27" stroke-linecap="butt" stroke-linejoin="round"/><path d="M18.12 101.74L18.65 100.67M29.77 78.17L29.93 77.12M54.14 8.44L54.85 7.95L55.6 7.8L56.4 8.05L57.19 8.72L57.99 9.69M94.14 101.83L94.7 100.62M105.82 78.03L106.05 76.94" fill="none" stroke="#fff" stroke-width="1.15" stroke-opacity="0.3" stroke-linecap="butt" stroke-linejoin="round"/><path d="M29.61 79.19L29.77 78.17M105.6 79.05L105.82 78.03" fill="none" stroke="#fff" stroke-width="1.15" stroke-opacity="0.33" stroke-linecap="butt" stroke-linejoin="round"/><path d="M18.65 100.67L19.3 99.6M29.46 80.18L29.61 79.19M94.7 100.62L95.3 99.6M105.4 80.01L105.6 79.05" fill="none" stroke="#fff" stroke-width="1.15" stroke-opacity="0.36" stroke-linecap="butt" stroke-linejoin="round"/><path d="M19.3 99.6L19.94 98.94M29.3 81.12L29.46 80.18M95.3 99.6L95.95 98.89M105.18 80.88L105.4 80.01" fill="none" stroke="#fff" stroke-width="1.15" stroke-opacity="0.39" stroke-linecap="butt" stroke-linejoin="round"/><path d="M19.94 98.94L20.67 98.31L21.42 97.61M29.12 81.99L29.3 81.12M95.95 98.89L96.64 98.31L97.34 97.67L98 96.8M104.95 81.68L105.18 80.88" fill="none" stroke="#fff" stroke-width="1.15" stroke-opacity="0.42" stroke-linecap="butt" stroke-linejoin="round"/><path d="M21.42 97.61L22.1 96.8M28.93 82.79L29.12 81.99M98 96.8L98.41 96.05M104.7 82.4L104.95 81.68" fill="none" stroke="#fff" stroke-width="1.15" stroke-opacity="0.45" stroke-linecap="butt" stroke-linejoin="round"/><path d="M22.1 96.8L22.59 96.04L23.05 95.21M28.7 83.5L28.93 82.79M98.41 96.05L98.8 95.19L99.18 94.26" fill="none" stroke="#fff" stroke-width="1.15" stroke-opacity="0.48" stroke-linecap="butt" stroke-linejoin="round"/><path d="M23.05 95.21L23.49 94.32M99.18 94.26L99.56 93.28L99.93 92.28M104.19 83.29L104.7 82.4" fill="none" stroke="#fff" stroke-width="1.15" stroke-opacity="0.51" stroke-linecap="butt" stroke-linejoin="round"/><path d="M23.49 94.32L23.91 93.38L24.3 92.4M28.06 84.66L28.7 83.5M99.93 92.28L100.3 91.3" fill="none" stroke="#fff" stroke-width="1.15" stroke-opacity="0.54" stroke-linecap="butt" stroke-linejoin="round"/><path d="M24.3 92.4L24.59 91.52M100.3 91.3L100.67 90.28M103.64 83.83L104.19 83.29" fill="none" stroke="#fff" stroke-width="1.15" stroke-opacity="0.57" stroke-linecap="butt" stroke-linejoin="round"/><path d="M27.3 85.39L28.06 84.66M100.67 90.28L101.04 89.19" fill="none" stroke="#fff" stroke-width="1.15" stroke-opacity="0.6" stroke-linecap="butt" stroke-linejoin="round"/><path d="M24.59 91.52L24.83 90.57M101.04 89.19L101.41 88.08" fill="none" stroke="#fff" stroke-width="1.15" stroke-opacity="0.63" stroke-linecap="butt" stroke-linejoin="round"/><path d="M24.83 90.57L25.06 89.59M103.06 84.36L103.64 83.83" fill="none" stroke="#fff" stroke-width="1.15" stroke-opacity="0.66" stroke-linecap="butt" stroke-linejoin="round"/><path d="M26.54 86.02L27.3 85.39M101.41 88.08L101.77 87.01" fill="none" stroke="#fff" stroke-width="1.15" stroke-opacity="0.69" stroke-linecap="butt" stroke-linejoin="round"/><path d="M25.06 89.59L25.3 88.62M101.77 87.01L102.13 86.03" fill="none" stroke="#fff" stroke-width="1.15" stroke-opacity="0.72" stroke-linecap="butt" stroke-linejoin="round"/><path d="M25.3 88.62L25.57 87.71M102.5 85.2L103.06 84.36" fill="none" stroke="#fff" stroke-width="1.15" stroke-opacity="0.75" stroke-linecap="butt" stroke-linejoin="round"/><path d="M25.9 86.9L26.54 86.02M102.13 86.03L102.5 85.2" fill="none" stroke="#fff" stroke-width="1.15" stroke-opacity="0.78" stroke-linecap="butt" stroke-linejoin="round"/><path d="M25.57 87.71L25.9 86.9" fill="none" stroke="#fff" stroke-width="1.15" stroke-opacity="0.81" stroke-linecap="butt" stroke-linejoin="round"/><path d="M14.12 30.75L15.5 31.5M33.11 48.73L33.4 49.81L33.68 50.9L33.95 51.98L34.22 53.05L34.49 54.08L34.76 55.05L35.03 55.97L35.3 56.8L35.73 58.01" fill="none" stroke="#fff" stroke-width="1.1" stroke-opacity="0.03" stroke-linecap="butt" stroke-linejoin="round"/><path d="M35.73 58.01L36.15 59.08L36.55 60.06L36.94 60.96L37.34 61.83L37.74 62.69M91.07 30.82L92 31.3" fill="none" stroke="#fff" stroke-width="1.1" stroke-opacity="0.06" stroke-linecap="butt" stroke-linejoin="round"/><path d="M13.66 30.46L14.12 30.75M37.74 62.69L38.16 63.57L38.6 64.5L39.02 65.39M69.01 66.31L69.48 65.37L69.9 64.5L70.37 63.48L70.81 62.49L71.23 61.52L71.63 60.57L72.02 59.63L72.4 58.7L72.8 57.75L73.2 56.8L73.61 55.84" fill="none" stroke="#fff" stroke-width="1.1" stroke-opacity="0.09" stroke-linecap="butt" stroke-linejoin="round"/><path d="M13.2 30.2L13.66 30.46M39.02 65.39L39.48 66.31L39.96 67.25L40.45 68.2M66.97 70.25L67.48 69.28L67.99 68.29L68.51 67.29L69.01 66.31M73.61 55.84L74.01 54.88" fill="none" stroke="#fff" stroke-width="1.1" stroke-opacity="0.12" stroke-linecap="butt" stroke-linejoin="round"/><path d="M1.6 44.6L2.07 43.98L2.74 43.08M40.45 68.2L40.93 69.12L41.39 70.01L41.81 70.85M65.4 73.4L65.69 72.77L66.06 72.02L66.49 71.17L66.97 70.25M74.01 54.88L74.41 53.92L74.81 52.96M89.8 30.2L91.07 30.82" fill="none" stroke="#fff" stroke-width="1.1" stroke-opacity="0.15" stroke-linecap="butt" stroke-linejoin="round"/><path d="M2.74 43.08L3.5 42.06L4.26 41.05M12.06 29.43L13.2 30.2M41.81 70.85L42.19 71.62L42.5 72.3M65.04 74.88L65.4 73.4M74.81 52.96L75.22 51.99L75.63 51.03" fill="none" stroke="#fff" stroke-width="1.1" stroke-opacity="0.18" stroke-linecap="butt" stroke-linejoin="round"/><path d="M4.26 41.05L4.9 40.2L5.53 39.46L6.07 38.91L6.58 38.29L7.1 37.4L7.47 36.53L7.85 35.47L8.23 34.31L8.6 33.17L8.96 32.13L9.3 31.3L9.89 30.16M11 29.1L12.06 29.43M42.5 72.3L42.89 73.4L43.02 74.12L43.16 74.81M64.9 75.8L65.04 74.88M75.63 51.03L76.06 50.07M88.87 29.69L89.8 30.2" fill="none" stroke="#fff" stroke-width="1.1" stroke-opacity="0.21" stroke-linecap="butt" stroke-linejoin="round"/><path d="M9.89 30.16L10.41 29.44L11 29.1M43.16 74.81L43.6 75.8L43.99 76.48L44.45 77.26M63.37 78.38L63.97 77.44L64.5 76.56L64.9 75.8M76.06 50.07L76.5 49.1L76.91 48.22L77.34 47.3M87 29.1L87.87 29.19L88.87 29.69" fill="none" stroke="#fff" stroke-width="1.1" stroke-opacity="0.24" stroke-linecap="butt" stroke-linejoin="round"/><path d="M44.45 77.26L44.98 78.09L45.56 78.97L46.16 79.86L46.78 80.75M61.49 81.03L62.1 80.2L62.73 79.32L63.37 78.38M77.34 47.3L77.78 46.37L78.23 45.44L78.67 44.52M83.16 38.04L83.7 37.2L84.06 36.34L84.36 35.4L84.6 34.41L84.82 33.45L85.05 32.56L85.3 31.8L85.82 30.56L86.35 29.62L87 29.1" fill="none" stroke="#fff" stroke-width="1.1" stroke-opacity="0.27" stroke-linecap="butt" stroke-linejoin="round"/><path d="M46.78 80.75L47.4 81.6L48 82.4L48.62 83.19M57.94 84.76L58.8 84.1L59.54 83.4L60.22 82.64L60.87 81.85L61.49 81.03M78.67 44.52L79.12 43.63L79.56 42.79L79.99 42M81.13 40.26L81.84 39.46L82.53 38.76L83.16 38.04" fill="none" stroke="#fff" stroke-width="1.1" stroke-opacity="0.3" stroke-linecap="butt" stroke-linejoin="round"/><path d="M48.62 83.19L49.29 84.03L49.99 84.87M55.11 86.47L56 85.96L56.98 85.38L57.94 84.76M79.99 42L80.4 41.3L81.13 40.26" fill="none" stroke="#fff" stroke-width="1.1" stroke-opacity="0.33" stroke-linecap="butt" stroke-linejoin="round"/><path d="M49.99 84.87L50.69 85.68L51.36 86.43M53.74 87.98L54.4 86.9L55.11 86.47" fill="none" stroke="#fff" stroke-width="1.1" stroke-opacity="0.36" stroke-linecap="butt" stroke-linejoin="round"/><path d="M51.36 86.43L51.99 87.09L52.54 87.63" fill="none" stroke="#fff" stroke-width="1.1" stroke-opacity="0.39" stroke-linecap="butt" stroke-linejoin="round"/><path d="M52.54 87.63L53 88L53.74 87.98" fill="none" stroke="#fff" stroke-width="1.1" stroke-opacity="0.42" stroke-linecap="butt" stroke-linejoin="round"/><path d="M53 72V104" fill="none" stroke="#fff" stroke-width="0.8" stroke-opacity="0.14" stroke-linecap="round" stroke-linejoin="round"/><path d="M53 82V95" fill="none" stroke="#fff" stroke-width="1" stroke-opacity="0.15" stroke-linecap="round" stroke-linejoin="round"/><path d="M55.6 2V20" fill="none" stroke="#fff" stroke-width="0.8" stroke-opacity="0.11" stroke-linecap="round" stroke-linejoin="round"/><path d="M25.2 63V75" fill="none" stroke="#fff" stroke-width="0.8" stroke-opacity="0.04" stroke-linecap="round" stroke-linejoin="round"/><path d="M25.4 99V112" fill="none" stroke="#fff" stroke-width="0.9" stroke-opacity="0.07" stroke-linecap="round" stroke-linejoin="round"/><path d="M16 96V109" fill="none" stroke="#fff" stroke-width="0.9" stroke-opacity="0.09" stroke-linecap="round" stroke-linejoin="round"/><path d="M91.4 95V110" fill="none" stroke="#fff" stroke-width="0.9" stroke-opacity="0.11" stroke-linecap="round" stroke-linejoin="round"/><path d="M101 64V74" fill="none" stroke="#fff" stroke-width="0.8" stroke-opacity="0.03" stroke-linecap="round" stroke-linejoin="round"/><path d="M43.6 74V87" fill="none" stroke="#fff" stroke-width="0.8" stroke-opacity="0.04" stroke-linecap="round" stroke-linejoin="round"/><path d="M62.7 75V92" fill="none" stroke="#fff" stroke-width="0.8" stroke-opacity="0.04" stroke-linecap="round" stroke-linejoin="round"/><path d="M35.3 44V58" fill="none" stroke="#fff" stroke-width="0.8" stroke-opacity="0.03" stroke-linecap="round" stroke-linejoin="round"/><path d="M73.2 46V58" fill="none" stroke="#fff" stroke-width="0.8" stroke-opacity="0.03" stroke-linecap="round" stroke-linejoin="round"/><path d="M6.3 85V100" fill="none" stroke="#fff" stroke-width="0.7" stroke-opacity="0.02" stroke-linecap="round" stroke-linejoin="round"/><path d="M17.1 16V33" fill="none" stroke="#fff" stroke-width="0.7" stroke-opacity="0.03" stroke-linecap="round" stroke-linejoin="round"/><path d="M22.6 17.5L28.1 35.2" fill="none" stroke="#fff" stroke-width="0.8" stroke-opacity="0.05" stroke-linecap="round" stroke-linejoin="round"/><path d="M26.4 28.5v1M26.6 33.5v1" fill="none" stroke="#fff" stroke-width="1.2" stroke-opacity="0.14" stroke-linecap="round" stroke-linejoin="round"/><path d="M93.1 14V31" fill="none" stroke="#fff" stroke-width="0.7" stroke-opacity="0.03" stroke-linecap="round" stroke-linejoin="round"/><path d="M97 26v1M102 27.5v1M102 34v1" fill="none" stroke="#fff" stroke-width="1.2" stroke-opacity="0.07" stroke-linecap="round" stroke-linejoin="round"/></g></svg>
<svg class="ab" style="left:410.3px;top:181.4px" width="113.6" height="113.2" viewBox="0 0 113.6 113.2"><g filter="url(#pm)"><rect x="-5" y="-5" width="125" height="125" fill="#000"/><path d="M24.59 91.52L24.83 90.57L25.06 89.59L25.3 88.62L25.57 87.71L25.9 86.9L26.54 86.02L27.3 85.39L28.06 84.66M101.04 89.19L101.41 88.08L101.77 87.01L102.13 86.03L102.5 85.2L103.06 84.36L103.64 83.83" fill="none" stroke="#fff" stroke-width="4.2" stroke-opacity="0.02" stroke-linecap="round" stroke-linejoin="round" filter="url(#b2)"/><path d="M18.65 100.67L19.3 99.6L19.94 98.94L20.67 98.31L21.42 97.61L22.1 96.8L22.59 96.04L23.05 95.21L23.49 94.32L23.91 93.38L24.3 92.4L24.59 91.52L24.83 90.57L25.06 89.59L25.3 88.62L25.57 87.71L25.9 86.9L26.54 86.02L27.3 85.39L28.06 84.66L28.7 83.5L28.93 82.79L29.12 81.99L29.3 81.12L29.46 80.18M94.7 100.62L95.3 99.6L95.95 98.89L96.64 98.31L97.34 97.67L98 96.8L98.41 96.05L98.8 95.19L99.18 94.26L99.56 93.28L99.93 92.28L100.3 91.3L100.67 90.28L101.04 89.19L101.41 88.08L101.77 87.01L102.13 86.03L102.5 85.2L103.06 84.36L103.64 83.83L104.19 83.29L104.7 82.4L104.95 81.68L105.18 80.88L105.4 80.01" fill="none" stroke="#fff" stroke-width="2.4" stroke-opacity="0.02" stroke-linecap="round" stroke-linejoin="round" filter="url(#b1)"/><path d="M49.99 84.87L50.69 85.68L51.36 86.43L51.99 87.09L52.54 87.63L53 88L53.74 87.98L54.4 86.9L55.11 86.47L56 85.96" fill="none" stroke="#fff" stroke-width="2.2" stroke-opacity="0.02" stroke-linecap="round" stroke-linejoin="round" filter="url(#b1)"/><path d="M9.32 99.43L9.58 100.45L9.85 101.32L10.15 101.95L10.5 102.3L11.09 102.09L11.78 101.23L12.5 100.09L13.19 99.05M16.83 101.69L17.6 102.3M30.1 76.06L30.3 75L30.48 74.11L30.66 73.17L30.84 72.2L31.03 71.21L31.23 70.2L31.43 69.2L31.63 68.2L31.84 67.22L32.06 66.27L32.28 65.36L32.5 64.5L32.82 63.42L33.16 62.43L33.51 61.51L33.86 60.62L34.22 59.73L34.59 58.82L34.95 57.85L35.3 56.8L35.58 55.89L35.85 54.94L36.13 53.96L36.4 52.96L36.67 51.93L36.95 50.9L37.23 49.86L37.51 48.82L37.8 47.8L38.1 46.8L38.39 45.84L38.68 44.91L38.95 44.01L39.24 43.12L39.52 42.22L39.83 41.29L40.15 40.32L40.5 39.3L40.88 38.19L41.3 37L41.58 36.19L41.89 35.34L42.2 34.44L42.53 33.5L42.88 32.54L43.23 31.55L43.59 30.54L43.96 29.53L44.33 28.51L44.7 27.5L45.08 26.5L45.45 25.51L45.82 24.56L46.19 23.63L46.55 22.74L46.9 21.9L47.37 20.81L47.85 19.73L48.34 18.67L48.83 17.62L49.32 16.6L49.8 15.62L50.28 14.68L50.74 13.79L51.19 12.96L51.62 12.18L52.02 11.48L52.4 10.85L53.36 9.38L54.14 8.44L54.85 7.95L55.6 7.8L56.4 8.05L57.19 8.72L57.99 9.69L58.8 10.85L59.27 11.59L59.74 12.42L60.21 13.34L60.68 14.31L61.15 15.34L61.63 16.41L62.1 17.5L62.47 18.38L62.84 19.28L63.21 20.22L63.59 21.19L63.96 22.17L64.33 23.18L64.69 24.21L65.05 25.25L65.4 26.3L65.68 27.18L65.96 28.1L66.24 29.04L66.52 29.99L66.79 30.96L67.06 31.93L67.32 32.89L67.58 33.83L67.83 34.75L68.07 35.65L68.3 36.5L68.6 37.58L68.86 38.58L69.12 39.51L69.36 40.42L69.6 41.35L69.84 42.34M79.1 79.62L79.34 80.67L79.59 81.7L79.85 82.71L80.12 83.68L80.4 84.6L80.79 85.69L81.21 86.73L81.65 87.72L82.11 88.68L82.55 89.62L82.98 90.55L83.36 91.47L83.7 92.4L84.02 93.5L84.28 94.63L84.5 95.76L84.7 96.86L84.89 97.89L85.08 98.81L85.3 99.6L85.82 101.06L86.35 102.01L87 102.3L87.65 101.77L88.41 100.69L89.16 99.59L89.8 99L90.42 99.26L90.9 100.11L91.4 101L91.94 102L92.49 103.04L93.1 103.4L93.6 102.86M106.05 76.94L106.3 75.8L106.49 74.95L106.7 74.05L106.91 73.1L107.12 72.12L107.34 71.11L107.57 70.09L107.8 69.06L108.03 68.02L108.27 67L108.5 66" fill="none" stroke="#fff" stroke-width="1.15" stroke-opacity="0.03" stroke-linecap="butt" stroke-linejoin="round"/><path d="M17.6 102.3L18.12 101.74M29.93 77.12L30.1 76.06M93.6 102.86L94.14 101.83M105.82 78.03L106.05 76.94" fill="none" stroke="#fff" stroke-width="1.15" stroke-opacity="0.06" stroke-linecap="butt" stroke-linejoin="round"/><path d="M18.12 101.74L18.65 100.67M29.77 78.17L29.93 77.12M94.14 101.83L94.7 100.62M105.6 79.05L105.82 78.03" fill="none" stroke="#fff" stroke-width="1.15" stroke-opacity="0.09" stroke-linecap="butt" stroke-linejoin="round"/><path d="M29.61 79.19L29.77 78.17M94.7 100.62L95.3 99.6L95.95 98.89M105.18 80.88L105.4 80.01L105.6 79.05" fill="none" stroke="#fff" stroke-width="1.15" stroke-opacity="0.12" stroke-linecap="butt" stroke-linejoin="round"/><path d="M18.65 100.67L19.3 99.6M29.46 80.18L29.61 79.19M95.95 98.89L96.64 98.31L97.34 97.67L98 96.8M104.95 81.68L105.18 80.88" fill="none" stroke="#fff" stroke-width="1.15" stroke-opacity="0.15" stroke-linecap="butt" stroke-linejoin="round"/><path d="M19.3 99.6L19.94 98.94M29.3 81.12L29.46 80.18M98 96.8L98.41 96.05L98.8 95.19M104.7 82.4L104.95 81.68" fill="none" stroke="#fff" stroke-width="1.15" stroke-opacity="0.18" stroke-linecap="butt" stroke-linejoin="round"/><path d="M19.94 98.94L20.67 98.31L21.42 97.61M29.12 81.99L29.3 81.12M98.8 95.19L99.18 94.26" fill="none" stroke="#fff" stroke-width="1.15" stroke-opacity="0.21" stroke-linecap="butt" stroke-linejoin="round"/><path d="M21.42 97.61L22.1 96.8M28.93 82.79L29.12 81.99M99.18 94.26L99.56 93.28L99.93 92.28M104.19 83.29L104.7 82.4" fill="none" stroke="#fff" stroke-width="1.15" stroke-opacity="0.24" stroke-linecap="butt" stroke-linejoin="round"/><path d="M22.1 96.8L22.59 96.04L23.05 95.21M28.7 83.5L28.93 82.79M99.93 92.28L100.3 91.3" fill="none" stroke="#fff" stroke-width="1.15" stroke-opacity="0.27" stroke-linecap="butt" stroke-linejoin="round"/><path d="M23.05 95.21L23.49 94.32M100.3 91.3L100.67 90.28M103.64 83.83L104.19 83.29" fill="none" stroke="#fff" stroke-width="1.15" stroke-opacity="0.3" stroke-linecap="butt" stroke-linejoin="round"/><path d="M23.49 94.32L23.91 93.38L24.3 92.4M28.06 84.66L28.7 83.5M100.67 90.28L101.04 89.19" fill="none" stroke="#fff" stroke-width="1.15" stroke-opacity="0.33" stroke-linecap="butt" stroke-linejoin="round"/><path d="M24.3 92.4L24.59 91.52M101.04 89.19L101.41 88.08" fill="none" stroke="#fff" stroke-width="1.15" stroke-opacity="0.36" stroke-linecap="butt" stroke-linejoin="round"/><path d="M27.3 85.39L28.06 84.66M103.06 84.36L103.64 83.83" fill="none" stroke="#fff" stroke-width="1.15" stroke-opacity="0.39" stroke-linecap="butt" stroke-linejoin="round"/><path d="M24.59 91.52L24.83 90.57M101.41 88.08L101.77 87.01" fill="none" stroke="#fff" stroke-width="1.15" stroke-opacity="0.42" stroke-linecap="butt" stroke-linejoin="round"/><path d="M24.83 90.57L25.06 89.59M101.77 87.01L102.13 86.03" fill="none" stroke="#fff" stroke-width="1.15" stroke-opacity="0.45" stroke-linecap="butt" stroke-linejoin="round"/><path d="M26.54 86.02L27.3 85.39M102.5 85.2L103.06 84.36" fill="none" stroke="#fff" stroke-width="1.15" stroke-opacity="0.48" stroke-linecap="butt" stroke-linejoin="round"/><path d="M25.06 89.59L25.3 88.62M102.13 86.03L102.5 85.2" fill="none" stroke="#fff" stroke-width="1.15" stroke-opacity="0.51" stroke-linecap="butt" stroke-linejoin="round"/><path d="M25.3 88.62L25.57 87.71" fill="none" stroke="#fff" stroke-width="1.15" stroke-opacity="0.54" stroke-linecap="butt" stroke-linejoin="round"/><path d="M25.9 86.9L26.54 86.02" fill="none" stroke="#fff" stroke-width="1.15" stroke-opacity="0.57" stroke-linecap="butt" stroke-linejoin="round"/><path d="M25.57 87.71L25.9 86.9" fill="none" stroke="#fff" stroke-width="1.15" stroke-opacity="0.6" stroke-linecap="butt" stroke-linejoin="round"/><path d="M1.6 44.6L2.07 43.98L2.74 43.08L3.5 42.06L4.26 41.05L4.9 40.2L5.53 39.46L6.07 38.91L6.58 38.29L7.1 37.4L7.47 36.53L7.85 35.47L8.23 34.31L8.6 33.17L8.96 32.13L9.3 31.3L9.89 30.16L10.41 29.44L11 29.1L12.06 29.43L13.2 30.2L13.66 30.46M38.6 64.5L39.02 65.39L39.48 66.31L39.96 67.25L40.45 68.2L40.93 69.12L41.39 70.01L41.81 70.85L42.19 71.62L42.5 72.3L42.89 73.4L43.02 74.12L43.16 74.81L43.6 75.8L43.99 76.48L44.45 77.26L44.98 78.09L45.56 78.97L46.16 79.86L46.78 80.75L47.4 81.6L48 82.4L48.62 83.19M56 85.96L56.98 85.38L57.94 84.76L58.8 84.1L59.54 83.4L60.22 82.64L60.87 81.85L61.49 81.03L62.1 80.2L62.73 79.32L63.37 78.38L63.97 77.44L64.5 76.56L64.9 75.8L65.04 74.88L65.4 73.4L65.69 72.77L66.06 72.02L66.49 71.17L66.97 70.25L67.48 69.28L67.99 68.29L68.51 67.29L69.01 66.31L69.48 65.37L69.9 64.5M73.2 56.8L73.61 55.84L74.01 54.88L74.41 53.92L74.81 52.96L75.22 51.99L75.63 51.03L76.06 50.07L76.5 49.1L76.91 48.22L77.34 47.3L77.78 46.37L78.23 45.44L78.67 44.52L79.12 43.63L79.56 42.79L79.99 42L80.4 41.3L81.13 40.26L81.84 39.46L82.53 38.76L83.16 38.04L83.7 37.2L84.06 36.34L84.36 35.4L84.6 34.41L84.82 33.45L85.05 32.56L85.3 31.8L85.82 30.56L86.35 29.62L87 29.1L87.87 29.19L88.87 29.69L89.8 30.2L91.07 30.82" fill="none" stroke="#fff" stroke-width="1.1" stroke-opacity="0.03" stroke-linecap="butt" stroke-linejoin="round"/><path d="M48.62 83.19L49.29 84.03L49.99 84.87L50.69 85.68M53.74 87.98L54.4 86.9L55.11 86.47L56 85.96" fill="none" stroke="#fff" stroke-width="1.1" stroke-opacity="0.06" stroke-linecap="butt" stroke-linejoin="round"/><path d="M50.69 85.68L51.36 86.43L51.99 87.09L52.54 87.63M53 88L53.74 87.98" fill="none" stroke="#fff" stroke-width="1.1" stroke-opacity="0.09" stroke-linecap="butt" stroke-linejoin="round"/><path d="M52.54 87.63L53 88" fill="none" stroke="#fff" stroke-width="1.1" stroke-opacity="0.12" stroke-linecap="butt" stroke-linejoin="round"/><path d="M53 72V104" fill="none" stroke="#fff" stroke-width="0.8" stroke-opacity="0.04" stroke-linecap="round" stroke-linejoin="round"/><path d="M53 82V95" fill="none" stroke="#fff" stroke-width="1" stroke-opacity="0.06" stroke-linecap="round" stroke-linejoin="round"/><path d="M55.6 2V20" fill="none" stroke="#fff" stroke-width="0.8" stroke-opacity="0.01" stroke-linecap="round" stroke-linejoin="round"/><path d="M25.2 63V75" fill="none" stroke="#fff" stroke-width="0.8" stroke-opacity="0.01" stroke-linecap="round" stroke-linejoin="round"/><path d="M25.4 99V112" fill="none" stroke="#fff" stroke-width="0.9" stroke-opacity="0.01" stroke-linecap="round" stroke-linejoin="round"/><path d="M16 96V109" fill="none" stroke="#fff" stroke-width="0.9" stroke-opacity="0.01" stroke-linecap="round" stroke-linejoin="round"/><path d="M91.4 95V110" fill="none" stroke="#fff" stroke-width="0.9" stroke-opacity="0.01" stroke-linecap="round" stroke-linejoin="round"/><path d="M101 64V74" fill="none" stroke="#fff" stroke-width="0.8" stroke-opacity="0.01" stroke-linecap="round" stroke-linejoin="round"/><path d="M43.6 74V87" fill="none" stroke="#fff" stroke-width="0.8" stroke-opacity="0.01" stroke-linecap="round" stroke-linejoin="round"/><path d="M62.7 75V92" fill="none" stroke="#fff" stroke-width="0.8" stroke-opacity="0.01" stroke-linecap="round" stroke-linejoin="round"/><path d="M35.3 44V58" fill="none" stroke="#fff" stroke-width="0.8" stroke-opacity="0.01" stroke-linecap="round" stroke-linejoin="round"/><path d="M73.2 46V58" fill="none" stroke="#fff" stroke-width="0.8" stroke-opacity="0.01" stroke-linecap="round" stroke-linejoin="round"/><path d="M6.3 85V100" fill="none" stroke="#fff" stroke-width="0.7" stroke-opacity="0" stroke-linecap="round" stroke-linejoin="round"/><path d="M17.1 16V33" fill="none" stroke="#fff" stroke-width="0.7" stroke-opacity="0" stroke-linecap="round" stroke-linejoin="round"/><path d="M22.6 17.5L28.1 35.2" fill="none" stroke="#fff" stroke-width="0.8" stroke-opacity="0.01" stroke-linecap="round" stroke-linejoin="round"/><path d="M26.4 28.5v1M26.6 33.5v1" fill="none" stroke="#fff" stroke-width="1.2" stroke-opacity="0.04" stroke-linecap="round" stroke-linejoin="round"/><path d="M93.1 14V31" fill="none" stroke="#fff" stroke-width="0.7" stroke-opacity="0.01" stroke-linecap="round" stroke-linejoin="round"/><path d="M97 26v1M102 27.5v1M102 34v1" fill="none" stroke="#fff" stroke-width="1.2" stroke-opacity="0.01" stroke-linecap="round" stroke-linejoin="round"/></g></svg>
<svg class="ab" style="left:0;top:0" width="550" height="344" viewBox="0 0 550 344"><rect x="225.3" y="9.3" width="113.2" height="112.8" fill="none" stroke="#aaa" stroke-opacity="0.55" stroke-width="0.6"/><rect x="341.4" y="9.1" width="6.3" height="113.2" fill="url(#cb)" stroke="#999" stroke-width="0.4"/><text x="349.9" y="12" font-size="8.2" text-anchor="start">0</text><text x="349.9" y="40.3" font-size="8.2" text-anchor="start">-10</text><text x="349.9" y="68.6" font-size="8.2" text-anchor="start">-20</text><text x="349.9" y="96.9" font-size="8.2" text-anchor="start">-30</text><text x="349.9" y="125.2" font-size="8.2" text-anchor="start">-40</text><text x="222.3" y="12.3" font-size="9.1" text-anchor="end">500</text><text x="222.3" y="68.9" font-size="9.1" text-anchor="end">0</text><text x="222.3" y="125.5" font-size="9.1" text-anchor="end">-500</text><text x="252.74" y="133.6" font-size="9.1" text-anchor="middle">2</text><text x="280.38" y="133.6" font-size="9.1" text-anchor="middle">4</text><text x="308.02" y="133.6" font-size="9.1" text-anchor="middle">6</text><text x="335.66" y="133.6" font-size="9.1" text-anchor="middle">8</text><text x="281.9" y="145.1" font-size="10.5" text-anchor="middle">Time (s)</text><text x="203" y="65.7" font-size="10.5" text-anchor="middle" transform="rotate(-90 203 65.7)">Frequency (Hz)</text><rect x="410.3" y="9.3" width="113.2" height="112.8" fill="none" stroke="#aaa" stroke-opacity="0.55" stroke-width="0.6"/><rect x="526.2" y="9.1" width="6.3" height="113.2" fill="url(#cb)" stroke="#999" stroke-width="0.4"/><text x="534.7" y="12" font-size="8.2" text-anchor="start">0</text><text x="534.7" y="40.3" font-size="8.2" text-anchor="start">-10</text><text x="534.7" y="68.6" font-size="8.2" text-anchor="start">-20</text><text x="534.7" y="96.9" font-size="8.2" text-anchor="start">-30</text><text x="534.7" y="125.2" font-size="8.2" text-anchor="start">-40</text><text x="407.3" y="12.3" font-size="9.1" text-anchor="end">500</text><text x="407.3" y="68.9" font-size="9.1" text-anchor="end">0</text><text x="407.3" y="125.5" font-size="9.1" text-anchor="end">-500</text><text x="437.74" y="133.6" font-size="9.1" text-anchor="middle">2</text><text x="465.38" y="133.6" font-size="9.1" text-anchor="middle">4</text><text x="493.02" y="133.6" font-size="9.1" text-anchor="middle">6</text><text x="520.66" y="133.6" font-size="9.1" text-anchor="middle">8</text><text x="466.9" y="145.1" font-size="10.5" text-anchor="middle">Time (s)</text><text x="388" y="65.7" font-size="10.5" text-anchor="middle" transform="rotate(-90 388 65.7)">Frequency (Hz)</text><rect x="41" y="181.6" width="113.2" height="112.8" fill="none" stroke="#aaa" stroke-opacity="0.55" stroke-width="0.6"/><rect x="156.6" y="181.4" width="6.3" height="113.2" fill="url(#cb)" stroke="#999" stroke-width="0.4"/><text x="165.1" y="184.3" font-size="8.2" text-anchor="start">0</text><text x="165.1" y="212.6" font-size="8.2" text-anchor="start">-10</text><text x="165.1" y="240.9" font-size="8.2" text-anchor="start">-20</text><text x="165.1" y="269.2" font-size="8.2" text-anchor="start">-30</text><text x="165.1" y="297.5" font-size="8.2" text-anchor="start">-40</text><text x="38" y="184.6" font-size="9.1" text-anchor="end">500</text><text x="38" y="241.2" font-size="9.1" text-anchor="end">0</text><text x="38" y="297.8" font-size="9.1" text-anchor="end">-500</text><text x="68.44" y="305.9" font-size="9.1" text-anchor="middle">2</text><text x="96.08" y="305.9" font-size="9.1" text-anchor="middle">4</text><text x="123.72" y="305.9" font-size="9.1" text-anchor="middle">6</text><text x="151.36" y="305.9" font-size="9.1" text-anchor="middle">8</text><text x="97.6" y="317.4" font-size="10.5" text-anchor="middle">Time (s)</text><text x="18.7" y="238" font-size="10.5" text-anchor="middle" transform="rotate(-90 18.7 238)">Frequency (Hz)</text><rect x="225.5" y="181.6" width="113.2" height="112.8" fill="none" stroke="#aaa" stroke-opacity="0.55" stroke-width="0.6"/><rect x="341.5" y="181.4" width="6.3" height="113.2" fill="url(#cb)" stroke="#999" stroke-width="0.4"/><text x="350" y="184.3" font-size="8.2" text-anchor="start">0</text><text x="350" y="212.6" font-size="8.2" text-anchor="start">-10</text><text x="350" y="240.9" font-size="8.2" text-anchor="start">-20</text><text x="350" y="269.2" font-size="8.2" text-anchor="start">-30</text><text x="350" y="297.5" font-size="8.2" text-anchor="start">-40</text><text x="222.5" y="195.92" font-size="9.1" text-anchor="end">200</text><text x="222.5" y="218.56" font-size="9.1" text-anchor="end">100</text><text x="222.5" y="241.2" font-size="9.1" text-anchor="end">0</text><text x="222.5" y="263.84" font-size="9.1" text-anchor="end">-100</text><text x="222.5" y="286.48" font-size="9.1" text-anchor="end">-200</text><text x="252.94" y="305.9" font-size="9.1" text-anchor="middle">2</text><text x="280.58" y="305.9" font-size="9.1" text-anchor="middle">4</text><text x="308.22" y="305.9" font-size="9.1" text-anchor="middle">6</text><text x="335.86" y="305.9" font-size="9.1" text-anchor="middle">8</text><text x="282.1" y="317.4" font-size="10.5" text-anchor="middle">Time (s)</text><text x="203.2" y="238" font-size="10.5" text-anchor="middle" transform="rotate(-90 203.2 238)">Frequency (Hz)</text><rect x="410.5" y="181.6" width="113.2" height="112.8" fill="none" stroke="#aaa" stroke-opacity="0.55" stroke-width="0.6"/><rect x="526.4" y="181.4" width="6.3" height="113.2" fill="url(#cb)" stroke="#999" stroke-width="0.4"/><text x="534.9" y="184.3" font-size="8.2" text-anchor="start">0</text><text x="534.9" y="212.6" font-size="8.2" text-anchor="start">-10</text><text x="534.9" y="240.9" font-size="8.2" text-anchor="start">-20</text><text x="534.9" y="269.2" font-size="8.2" text-anchor="start">-30</text><text x="534.9" y="297.5" font-size="8.2" text-anchor="start">-40</text><text x="407.5" y="184.6" font-size="9.1" text-anchor="end">500</text><text x="407.5" y="241.2" font-size="9.1" text-anchor="end">0</text><text x="407.5" y="297.8" font-size="9.1" text-anchor="end">-500</text><text x="437.94" y="305.9" font-size="9.1" text-anchor="middle">2</text><text x="465.58" y="305.9" font-size="9.1" text-anchor="middle">4</text><text x="493.22" y="305.9" font-size="9.1" text-anchor="middle">6</text><text x="520.86" y="305.9" font-size="9.1" text-anchor="middle">8</text><text x="467.1" y="317.4" font-size="10.5" text-anchor="middle">Time (s)</text><text x="388.2" y="238" font-size="10.5" text-anchor="middle" transform="rotate(-90 388.2 238)">Frequency (Hz)</text><text x="4.5" y="166" font-size="11.8" font-weight="bold" style="fill:#000;stroke:none">(a)</text><text x="188.5" y="166" font-size="11.8" font-weight="bold" style="fill:#000;stroke:none">(b)</text><text x="372.5" y="166" font-size="11.8" font-weight="bold" style="fill:#000;stroke:none">(c)</text><text x="4.5" y="338" font-size="11.8" font-weight="bold" style="fill:#000;stroke:none">(d)</text><text x="188.5" y="338" font-size="11.8" font-weight="bold" style="fill:#000;stroke:none">(e)</text><text x="372.5" y="338" font-size="11.8" font-weight="bold" style="fill:#000;stroke:none">(f)</text><rect x="38.6" y="9.1" width="130.5" height="113.3" fill="none" stroke="#888" stroke-width="0.7"/><text x="70.46" y="133.7" font-size="9.1" text-anchor="middle">2</text><text x="102.32" y="133.7" font-size="9.1" text-anchor="middle">4</text><text x="134.18" y="133.7" font-size="9.1" text-anchor="middle">6</text><text x="166.04" y="133.7" font-size="9.1" text-anchor="middle">8</text><text x="35.8" y="37.8" font-size="9.1" text-anchor="end">0.2</text><text x="35.8" y="67.9" font-size="9.1" text-anchor="end">0</text><text x="35.8" y="98" font-size="9.1" text-anchor="end">-0.2</text><path d="M70.46 122.4v-1.3M70.46 9.1v1.3M102.32 122.4v-1.3M102.32 9.1v1.3M134.18 122.4v-1.3M134.18 9.1v1.3M166.04 122.4v-1.3M166.04 9.1v1.3M38.6 34.6h1.3M169.1 34.6h-1.3M38.6 64.7h1.3M169.1 64.7h-1.3M38.6 94.8h1.3M169.1 94.8h-1.3" stroke="#888" stroke-width="0.5" fill="none"/><text x="103.85" y="145.2" font-size="10.5" text-anchor="middle">Time (s)</text><text x="18" y="65.75" font-size="10.5" text-anchor="middle" transform="rotate(-90 18 65.75)">Amplitude</text><path d="M38.8 64.45L39.1 64.45L39.4 64.38L39.7 64.21L40 64.05L40.3 63.86L40.6 63.88L40.9 63.75L41.2 63.53L41.5 63.36L41.8 63.29L42.1 63.24L42.4 62.93L42.7 62.91L43 62.99L43.3 62.45L43.6 62.44L43.9 62.42L44.2 62.27L44.5 61.76L44.8 62.43L45.1 62.41L45.4 62.39L45.7 61.87L46 62.08L46.3 62.16L46.6 61.1L46.9 61.9L47.2 61.75L47.5 61.45L47.8 61.83L48.1 62.14L48.4 61.29L48.7 61.59L49 61.92L49.3 62.13L49.6 62.12L49.9 62.26L50.2 62.54L50.5 62.26L50.8 62.16L51.1 62.59L51.4 62.52L51.7 62.13L52 62.36L52.3 62.41L52.6 61.7L52.9 61.57L53.2 61.95L53.5 61.38L53.8 61.83L54.1 61.19L54.4 61.39L54.7 61.22L55 61.37L55.3 61.21L55.6 60.81L55.9 60.05L56.2 60.33L56.5 60.33L56.8 60.13L57.1 59.82L57.4 59.53L57.7 56.51L58 59.65L58.3 58.09L58.6 57.87L58.9 57.95L59.2 56.97L59.5 56.44L59.8 56.29L60.1 55.37L60.4 55.07L60.7 55.3L61 54.68L61.3 53.59L61.6 50.6L61.9 50.53L62.2 50.07L62.5 48.56L62.8 40.78L63.1 43.54L63.4 40.96L63.7 43.54L64 39.29L64.3 39.22L64.6 37.63L64.9 35.71L65.2 33.49L65.5 27.79L65.8 27.25L66.1 26.87L66.4 22.32L66.7 18.01L67 19.25L67.3 18.55L67.6 9.62L67.9 14.73L68.2 17.25L68.5 18.46L68.8 24.52L69.1 26.61L69.4 26.69L69.7 30.37L70 25.8L70.3 24.78L70.6 33.4L70.9 39.23L71.2 40.48L71.5 38.17L71.8 38.76L72.1 38.8L72.4 45.13L72.7 42.63L73 44.94L73.3 46L73.6 48.91L73.9 50.83L74.2 50.36L74.5 51.3L74.8 52.88L75.1 55.58L75.4 55.15L75.7 56.84L76 57.76L76.3 58.85L76.6 60.82L76.9 61.37L77.2 61.96L77.5 61.31L77.8 62.38L78.1 62.95L78.4 63.07L78.7 62.73L79 62.92L79.3 63.01L79.6 55.23L79.9 62.91L80.2 62.37L80.5 62.57L80.8 62.51L81.1 62.46L81.4 62.14L81.7 61.82L82 61.41L82.3 61.1L82.6 60.83L82.9 60.45L83.2 60.76L83.5 60.07L83.8 60.19L84.1 59.35L84.4 58.97L84.7 58.7L85 57.92L85.3 57.73L85.6 58.01L85.9 56.7L86.2 56.67L86.5 54.85L86.8 56.4L87.1 54.52L87.4 53.49L87.7 54.81L88 52.15L88.3 49.87L88.6 53.25L88.9 53.66L89.2 53.77L89.5 52.95L89.8 46.27L90.1 51.78L90.4 51.66L90.7 52.88L91 52.5L91.3 53.26L91.6 51.89L91.9 51.31L92.2 53.2L92.5 52.23L92.8 51.61L93.1 52.82L93.4 53.26L93.7 51L94 52.58L94.3 51L94.6 52.48L94.9 50.02L95.2 51.66L95.5 52.74L95.8 52.06L96.1 51.23L96.4 52.71L96.7 50.37L97 49.89L97.3 48.64L97.6 50.19L97.9 52.3L98.2 51.88L98.5 50.44L98.8 50.82L99.1 52.36L99.4 52.86L99.7 53.59L100 47.55L100.3 53.49L100.6 53.1L100.9 51.74L101.2 51.61L101.5 51.97L101.8 53.73L102.1 53.08L102.4 52.11L102.7 52.95L103 54.24L103.3 51.5L103.6 51.65L103.9 51.35L104.2 53.24L104.5 53.03L104.8 53.88L105.1 52.66L105.4 53.45L105.7 51.52L106 52.08L106.3 52.29L106.6 50.75L106.9 47.85L107.2 52.17L107.5 49.03L107.8 51.76L108.1 52.62L108.4 52.28L108.7 51.64L109 51.4L109.3 51.55L109.6 51.9L109.9 53.09L110.2 53.73L110.5 53.93L110.8 54.12L111.1 51.63L111.4 52.02L111.7 52.43L112 53.7L112.3 51.2L112.6 51.85L112.9 53.03L113.2 51.21L113.5 51.51L113.8 50.23L114.1 50.76L114.4 51.39L114.7 50.48L115 50.51L115.3 50.28L115.6 52.1L115.9 52.76L116.2 50.48L116.5 52.3L116.8 49.99L117.1 52.65L117.4 50.7L117.7 52.2L118 51.34L118.3 51.86L118.6 50.1L118.9 52.41L119.2 54.05L119.5 55.1L119.8 54.85L120.1 54.46L120.4 55.89L120.7 55.21L121 57.59L121.3 56.83L121.6 58.09L121.9 58.31L122.2 59.43L122.5 59.47L122.8 59.14L123.1 60.5L123.4 60.96L123.7 60.61L124 61.47L124.3 61.56L124.6 61.57L124.9 61.7L125.2 61.17L125.5 61.17L125.8 60.98L126.1 61.07L126.4 61.11L126.7 61.05L127 61.06L127.3 60.81L127.6 59.13L127.9 59.52L128.2 59.98L128.5 58.64L128.8 58.14L129.1 58.95L129.4 57.77L129.7 58.51L130 56.27L130.3 57.88L130.6 56.65L130.9 58.16L131.2 57.35L131.5 56.33L131.8 57.89L132.1 57.74L132.4 57.12L132.7 56.82L133 55.82L133.3 56.98L133.6 55.65L133.9 55.01L134.2 56.26L134.5 55.72L134.8 55.5L135.1 56.03L135.4 55.55L135.7 55.49L136 55.46L136.3 55.93L136.6 56.95L136.9 56.92L137.2 57.59L137.5 56.31L137.8 57.92L138.1 57.85L138.4 57.68L138.7 58.83L139 58.02L139.3 58.95L139.6 58.81L139.9 59.26L140.2 60.23L140.5 59.88L140.8 60.19L141.1 60.92L141.4 59.95L141.7 61.48L142 61.81L142.3 61.61L142.6 61.39L142.9 61.12L143.2 60.87L143.5 61.01L143.8 60.31L144.1 59.41L144.4 59.69L144.7 58.91L145 59.26L145.3 58L145.6 57.92L145.9 57.02L146.2 55.37L146.5 57.09L146.8 56.37L147.1 54.98L147.4 54.48L147.7 51.65L148 53.45L148.3 53.84L148.6 51.3L148.9 51.31L149.2 50.03L149.5 50.06L149.8 49.23L150.1 48.5L150.4 47.46L150.7 48.88L151 44.63L151.3 42.31L151.6 45.96L151.9 42.97L152.2 38.84L152.5 40.57L152.8 38.25L153.1 37.67L153.4 34.01L153.7 34.85L154 34.99L154.3 31.69L154.6 28.8L154.9 36.08L155.2 31.81L155.5 33.5L155.8 34.5L156.1 35.45L156.4 36.87L156.7 38.18L157 42.45L157.3 42.14L157.6 46.79L157.9 38.82L158.2 46.41L158.5 48.21L158.8 46.75L159.1 51.47L159.4 52.44L159.7 51.65L160 52.7L160.3 53.66L160.6 55.29L160.9 56.66L161.2 56.54L161.5 56.92L161.8 57.73L162.1 58.46L162.4 58.96L162.7 59.28L163 59.7L163.3 60.03L163.6 61.07L163.9 61.49L164.2 62.25L164.5 61.88L164.8 62.1L165.1 62.3L165.4 62.74L165.7 63.01L166 63.04L166.3 63.37L166.6 63.6L166.9 63.54L167.2 63.65L167.5 63.81L167.8 63.84L168.1 63.83L168.4 63.95L168.7 63.93L168.7 65.09L168.4 65.17L168.1 65.25L167.8 65.33L167.5 65.42L167.2 65.46L166.9 65.57L166.6 65.62L166.3 65.82L166 66.04L165.7 66.31L165.4 66.28L165.1 66.83L164.8 67.11L164.5 67.37L164.2 67.25L163.9 67.92L163.6 68.31L163.3 68.67L163 69.06L162.7 68.92L162.4 69.8L162.1 70.04L161.8 70.56L161.5 70.25L161.2 71.94L160.9 72.47L160.6 75.87L160.3 73.86L160 74.8L159.7 74.11L159.4 74.35L159.1 77.9L158.8 75.93L158.5 77.15L158.2 80.83L157.9 80.2L157.6 80.09L157.3 84.89L157 84.31L156.7 87.45L156.4 89.6L156.1 92.35L155.8 89.33L155.5 93.83L155.2 96.77L154.9 94.32L154.6 97.07L154.3 96.99L154 92.28L153.7 94.61L153.4 89.72L153.1 89.13L152.8 88.95L152.5 88.07L152.2 82.62L151.9 85.89L151.6 83.22L151.3 79.86L151 81.85L150.7 80.72L150.4 78.59L150.1 76.06L149.8 75.97L149.5 76.65L149.2 76.25L148.9 75.5L148.6 74.9L148.3 74.25L148 72.62L147.7 71.5L147.4 72.4L147.1 72.04L146.8 71.34L146.5 70.39L146.2 69.95L145.9 69.71L145.6 69.16L145.3 69.55L145 69.27L144.7 68.66L144.4 68.17L144.1 68.34L143.8 68L143.5 68.02L143.2 67.58L142.9 68.02L142.6 68.01L142.3 67.7L142 67.89L141.7 68.4L141.4 68.92L141.1 69.03L140.8 69.15L140.5 69.3L140.2 69.85L139.9 70.24L139.6 70.89L139.3 70.46L139 71L138.7 71.48L138.4 71.57L138.1 70.92L137.8 72.26L137.5 72.75L137.2 73.26L136.9 72.16L136.6 72.73L136.3 74L136 73.09L135.7 74.12L135.4 74.75L135.1 73.85L134.8 74.6L134.5 74.69L134.2 73.28L133.9 74.69L133.6 73.2L133.3 73.89L133 73.2L132.7 73.83L132.4 72.81L132.1 72.58L131.8 71.81L131.5 71.36L131.2 72.24L130.9 71.55L130.6 71.47L130.3 71.55L130 70.91L129.7 70.16L129.4 70.96L129.1 69.52L128.8 70.33L128.5 69.9L128.2 69.24L127.9 68.92L127.6 68.11L127.3 67.66L127 67.82L126.7 67.67L126.4 67.64L126.1 67.47L125.8 67.16L125.5 67.41L125.2 66.77L124.9 67.07L124.6 66.88L124.3 66.99L124 66.75L123.7 67.21L123.4 67.65L123.1 67.89L122.8 67.6L122.5 68.14L122.2 68.31L121.9 68.23L121.6 69.11L121.3 69.09L121 69.68L120.7 70.22L120.4 69.8L120.1 70.63L119.8 71.17L119.5 71.2L119.2 73L118.9 72.13L118.6 71.58L118.3 73.98L118 72.51L117.7 74.54L117.4 73.9L117.1 75.94L116.8 75.46L116.5 75.66L116.2 76.5L115.9 74.74L115.6 74.97L115.3 74.62L115 74.67L114.7 76.58L114.4 76.63L114.1 76.32L113.8 74.59L113.5 74.31L113.2 74.41L112.9 75.44L112.6 74.5L112.3 76.24L112 75.87L111.7 75.97L111.4 75.09L111.1 74.54L110.8 78.5L110.5 74.93L110.2 75.34L109.9 76.39L109.6 74.67L109.3 75.31L109 76.67L108.7 76.65L108.4 76.56L108.1 75.6L107.8 76.53L107.5 74.68L107.2 76.33L106.9 74.8L106.6 76.72L106.3 75.75L106 75.03L105.7 74.45L105.4 74.48L105.1 74.8L104.8 75.24L104.5 76.03L104.2 75.54L103.9 74.85L103.6 75.95L103.3 76.39L103 75.71L102.7 77.17L102.4 76.87L102.1 77.79L101.8 77.64L101.5 75.88L101.2 76.27L100.9 77.86L100.6 76.82L100.3 77.15L100 78.53L99.7 77.5L99.4 83.51L99.1 77.13L98.8 78.4L98.5 76.72L98.2 77.05L97.9 77.86L97.6 81.86L97.3 77.32L97 78.22L96.7 78.83L96.4 76.12L96.1 78.29L95.8 79.95L95.5 77.07L95.2 77.85L94.9 75.7L94.6 75.06L94.3 76.27L94 80.78L93.7 77.58L93.4 75.96L93.1 77.25L92.8 77.06L92.5 75.02L92.2 76.37L91.9 75.14L91.6 76.2L91.3 75.51L91 79.79L90.7 76.28L90.4 79.36L90.1 75.94L89.8 79.67L89.5 77.78L89.2 74.48L88.9 74.86L88.6 76.24L88.3 75.22L88 75.38L87.7 73.83L87.4 75.22L87.1 72.87L86.8 74.18L86.5 76.28L86.2 72.39L85.9 72.66L85.6 71.62L85.3 71.6L85 71.65L84.7 70.06L84.4 69.85L84.1 69.7L83.8 69.34L83.5 69.25L83.2 69.41L82.9 68.5L82.6 68.72L82.3 67.87L82 68.3L81.7 68L81.4 67.38L81.1 67.67L80.8 67.36L80.5 67.27L80.2 74.55L79.9 74.55L79.6 67.05L79.3 67.06L79 67.82L78.7 66.94L78.4 66.88L78.1 67.11L77.8 67.31L77.5 67.49L77.2 67.17L76.9 67.54L76.6 68.11L76.3 69.75L76 69.03L75.7 70.4L75.4 71.41L75.1 71.05L74.8 71.35L74.5 73.7L74.2 77.16L73.9 76.1L73.6 74.92L73.3 78.5L73 79.64L72.7 81.14L72.4 82.78L72.1 81.44L71.8 86.1L71.5 86.11L71.2 84.71L70.9 88.32L70.6 91.8L70.3 92.87L70 96.34L69.7 98.53L69.4 99.58L69.1 107.74L68.8 109.99L68.5 109.29L68.2 117.67L67.9 117.47L67.6 117.16L67.3 115.21L67 106.61L66.7 117.43L66.4 106.17L66.1 102.37L65.8 99.86L65.5 99.76L65.2 101.61L64.9 99.93L64.6 91.4L64.3 95.34L64 93.23L63.7 90.66L63.4 89.68L63.1 85.73L62.8 83.72L62.5 86.02L62.2 80.79L61.9 79.54L61.6 79.43L61.3 77.81L61 76.78L60.7 75.32L60.4 75.51L60.1 74.76L59.8 73.65L59.5 73.15L59.2 73.15L58.9 71.86L58.6 72.25L58.3 71.46L58 71.34L57.7 69.77L57.4 70.8L57.1 70.02L56.8 69.74L56.5 69.36L56.2 69.73L55.9 69.28L55.6 70L55.3 68.94L55 68.17L54.7 68.73L54.4 68.5L54.1 68.13L53.8 68.15L53.5 67.9L53.2 67.58L52.9 67.59L52.6 67.53L52.3 67.3L52 68L51.7 67.38L51.4 66.93L51.1 67.25L50.8 67.26L50.5 66.87L50.2 67.47L49.9 67.12L49.6 67.3L49.3 67.09L49 67.15L48.7 67.34L48.4 67.14L48.1 67.19L47.8 67.48L47.5 67.75L47.2 67.59L46.9 67.5L46.6 67.25L46.3 67.17L46 67.49L45.7 67.42L45.4 67.14L45.1 66.96L44.8 66.82L44.5 67.07L44.2 67.16L43.9 66.95L43.6 66.78L43.3 66.59L43 66.63L42.7 66.54L42.4 66.25L42.1 66.23L41.8 66.03L41.5 65.95L41.2 65.73L40.9 65.76L40.6 65.53L40.3 65.41L40 65.45L39.7 65.31L39.4 65.15L39.1 65.03L38.8 64.95Z" fill="#0072bd" stroke="#0072bd" stroke-width="0.25" stroke-linejoin="round"/></svg>
</body></html>
